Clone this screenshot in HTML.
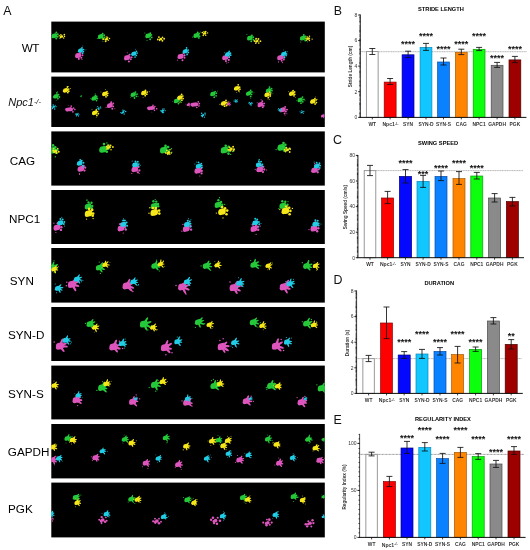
<!DOCTYPE html>
<html><head><meta charset="utf-8"><title>Figure</title>
<style>html,body{margin:0;padding:0;background:#fff}body{width:530px;height:550px;position:relative;overflow:hidden}</style>
</head><body>
<svg width="530" height="550" viewBox="0 0 530 550" style="position:absolute;left:0;top:0">
<defs>
<clipPath id="cs0"><rect x="51.3" y="21.6" width="273.5" height="50.8"/></clipPath>
<clipPath id="cs1"><rect x="51.3" y="76.6" width="273.5" height="50.4"/></clipPath>
<clipPath id="cs2"><rect x="51.3" y="131.4" width="273.5" height="54.2"/></clipPath>
<clipPath id="cs3"><rect x="51.3" y="190" width="273.5" height="54.0"/></clipPath>
<clipPath id="cs4"><rect x="51.3" y="248" width="273.5" height="54.6"/></clipPath>
<clipPath id="cs5"><rect x="51.3" y="307" width="273.5" height="54.0"/></clipPath>
<clipPath id="cs6"><rect x="51.3" y="365.6" width="273.5" height="53.8"/></clipPath>
<clipPath id="cs7"><rect x="51.3" y="424" width="273.5" height="54.4"/></clipPath>
<clipPath id="cs8"><rect x="51.3" y="482.6" width="273.5" height="54.8"/></clipPath>
</defs>
<rect width="530" height="550" fill="#fff"/>
<rect x="51.3" y="21.6" width="273.5" height="50.8" fill="#000"/>
<rect x="51.3" y="76.6" width="273.5" height="50.4" fill="#000"/>
<rect x="51.3" y="131.4" width="273.5" height="54.2" fill="#000"/>
<rect x="51.3" y="190" width="273.5" height="54.0" fill="#000"/>
<rect x="51.3" y="248" width="273.5" height="54.6" fill="#000"/>
<rect x="51.3" y="307" width="273.5" height="54.0" fill="#000"/>
<rect x="51.3" y="365.6" width="273.5" height="53.8" fill="#000"/>
<rect x="51.3" y="424" width="273.5" height="54.4" fill="#000"/>
<rect x="51.3" y="482.6" width="273.5" height="54.8" fill="#000"/>
<g clip-path="url(#cs0)">
<g fill="#25c93a"><ellipse cx="54.5" cy="35.8" rx="2.70" ry="2.20"/><circle cx="53.2" cy="36.8" r="1.50"/><circle cx="55.5" cy="34.9" r="1.60"/><circle cx="56.3" cy="32.5" r="0.95"/><circle cx="57.8" cy="34.3" r="0.95"/><circle cx="57.6" cy="36.8" r="0.95"/><circle cx="56.2" cy="38.5" r="0.95"/><circle cx="51.2" cy="37.6" r="0.50"/><circle cx="59.4" cy="38.4" r="0.50"/></g>
<g fill="#de55bd"><ellipse cx="78.2" cy="55.5" rx="2.92" ry="2.38"/><circle cx="76.8" cy="56.6" r="1.62"/><circle cx="79.2" cy="54.5" r="1.73"/><circle cx="80.6" cy="52.8" r="1.03"/><circle cx="82.4" cy="55.3" r="1.03"/><circle cx="81.3" cy="57.7" r="1.03"/><circle cx="78.8" cy="58.9" r="1.03"/><circle cx="82.2" cy="51.8" r="0.54"/><circle cx="82.0" cy="59.5" r="0.54"/></g>
<g fill="#25c93a"><ellipse cx="100.7" cy="36.4" rx="2.70" ry="2.20"/><circle cx="99.4" cy="37.4" r="1.50"/><circle cx="101.7" cy="35.5" r="1.60"/><circle cx="102.7" cy="33.7" r="0.95"/><circle cx="104.2" cy="35.3" r="0.95"/><circle cx="104.2" cy="37.5" r="0.95"/><circle cx="102.7" cy="38.9" r="0.95"/><circle cx="102.9" cy="41.3" r="0.50"/><circle cx="97.3" cy="38.5" r="0.50"/></g>
<g fill="#de55bd"><ellipse cx="127.1" cy="57.7" rx="2.92" ry="2.38"/><circle cx="125.7" cy="58.8" r="1.62"/><circle cx="128.2" cy="56.7" r="1.73"/><circle cx="129.5" cy="54.8" r="1.03"/><circle cx="131.2" cy="57.2" r="1.03"/><circle cx="130.8" cy="59.3" r="1.03"/><circle cx="128.9" cy="61.5" r="1.03"/><circle cx="127.3" cy="52.8" r="0.54"/><circle cx="132.8" cy="57.2" r="0.54"/></g>
<g fill="#25c93a"><ellipse cx="148.2" cy="35.8" rx="2.70" ry="2.20"/><circle cx="146.9" cy="36.8" r="1.50"/><circle cx="149.2" cy="34.9" r="1.60"/><circle cx="150.3" cy="33.2" r="0.95"/><circle cx="151.3" cy="34.9" r="0.95"/><circle cx="151.7" cy="37.4" r="0.95"/><circle cx="150.1" cy="39.2" r="0.95"/><circle cx="147.0" cy="40.5" r="0.50"/><circle cx="144.9" cy="33.0" r="0.50"/></g>
<g fill="#de55bd"><ellipse cx="180.6" cy="56.4" rx="2.92" ry="2.38"/><circle cx="179.2" cy="57.5" r="1.62"/><circle cx="181.7" cy="55.5" r="1.73"/><circle cx="183.5" cy="53.3" r="1.03"/><circle cx="184.5" cy="55.4" r="1.03"/><circle cx="184.5" cy="57.7" r="1.03"/><circle cx="182.5" cy="60.3" r="1.03"/><circle cx="183.7" cy="51.9" r="0.54"/><circle cx="177.4" cy="60.1" r="0.54"/></g>
<g fill="#25c93a"><ellipse cx="196.3" cy="35.4" rx="2.70" ry="2.20"/><circle cx="195.0" cy="36.4" r="1.50"/><circle cx="197.3" cy="34.5" r="1.60"/><circle cx="197.7" cy="32.4" r="0.95"/><circle cx="199.1" cy="33.7" r="0.95"/><circle cx="199.5" cy="36.3" r="0.95"/><circle cx="198.8" cy="37.9" r="0.95"/><circle cx="200.2" cy="32.1" r="0.50"/><circle cx="192.4" cy="36.9" r="0.50"/></g>
<g fill="#de55bd"><ellipse cx="225.3" cy="57.6" rx="2.92" ry="2.38"/><circle cx="223.9" cy="58.6" r="1.62"/><circle cx="226.4" cy="56.6" r="1.73"/><circle cx="228.7" cy="55.1" r="1.03"/><circle cx="229.1" cy="57.2" r="1.03"/><circle cx="228.8" cy="59.9" r="1.03"/><circle cx="225.9" cy="61.1" r="1.03"/><circle cx="228.3" cy="62.3" r="0.54"/><circle cx="226.7" cy="63.0" r="0.54"/></g>
<g fill="#25c93a"><ellipse cx="249.9" cy="37.9" rx="2.70" ry="2.20"/><circle cx="248.6" cy="38.9" r="1.50"/><circle cx="250.9" cy="37.0" r="1.60"/><circle cx="251.9" cy="35.4" r="0.95"/><circle cx="253.3" cy="37.2" r="0.95"/><circle cx="253.4" cy="39.8" r="0.95"/><circle cx="251.2" cy="41.2" r="0.95"/><circle cx="246.9" cy="34.6" r="0.50"/><circle cx="255.7" cy="39.8" r="0.50"/></g>
<g fill="#de55bd"><ellipse cx="280.3" cy="57.6" rx="2.92" ry="2.38"/><circle cx="278.9" cy="58.7" r="1.62"/><circle cx="281.3" cy="56.6" r="1.73"/><circle cx="283.5" cy="55.0" r="1.03"/><circle cx="284.0" cy="57.1" r="1.03"/><circle cx="283.8" cy="59.4" r="1.03"/><circle cx="281.7" cy="60.8" r="1.03"/><circle cx="282.4" cy="62.6" r="0.54"/><circle cx="278.5" cy="61.9" r="0.54"/></g>
<g fill="#25c93a"><ellipse cx="302.7" cy="38.1" rx="2.70" ry="2.20"/><circle cx="301.4" cy="39.1" r="1.50"/><circle cx="303.7" cy="37.2" r="1.60"/><circle cx="303.8" cy="35.0" r="0.95"/><circle cx="305.5" cy="36.5" r="0.95"/><circle cx="306.3" cy="39.1" r="0.95"/><circle cx="305.2" cy="40.5" r="0.95"/><circle cx="300.8" cy="41.9" r="0.50"/><circle cx="307.3" cy="41.7" r="0.50"/></g>
<g fill="#f6e71a"><circle cx="61.9" cy="36.4" r="1.25"/><circle cx="60.7" cy="37.0" r="1.00"/><circle cx="64.6" cy="36.4" r="0.68"/><circle cx="63.7" cy="37.9" r="0.73"/><circle cx="60.4" cy="37.8" r="0.66"/><circle cx="59.2" cy="35.8" r="0.69"/><circle cx="60.9" cy="34.9" r="0.81"/><circle cx="64.3" cy="34.7" r="0.86"/></g>
<g fill="#22cde6"><ellipse cx="80.5" cy="50.4" rx="2.43" ry="1.98"/><circle cx="79.3" cy="51.3" r="1.35"/><circle cx="81.4" cy="49.6" r="1.44"/><circle cx="82.0" cy="47.8" r="0.85"/><circle cx="83.6" cy="49.5" r="0.85"/><circle cx="83.4" cy="51.6" r="0.85"/><circle cx="82.6" cy="53.2" r="0.85"/><circle cx="85.9" cy="49.9" r="0.45"/><circle cx="82.8" cy="46.0" r="0.45"/></g>
<g fill="#f6e71a"><circle cx="106.8" cy="39.0" r="1.25"/><circle cx="105.6" cy="39.6" r="1.00"/><circle cx="109.5" cy="38.6" r="0.76"/><circle cx="108.3" cy="40.2" r="0.73"/><circle cx="105.7" cy="41.2" r="0.94"/><circle cx="103.5" cy="39.1" r="0.95"/><circle cx="106.2" cy="37.0" r="0.72"/><circle cx="107.7" cy="37.2" r="0.71"/></g>
<g fill="#22cde6"><ellipse cx="133.8" cy="53.7" rx="2.43" ry="1.98"/><circle cx="132.6" cy="54.6" r="1.35"/><circle cx="134.7" cy="52.9" r="1.44"/><circle cx="136.4" cy="51.3" r="0.85"/><circle cx="137.1" cy="53.1" r="0.85"/><circle cx="136.3" cy="55.3" r="0.85"/><circle cx="135.1" cy="57.0" r="0.85"/><circle cx="135.4" cy="49.3" r="0.45"/><circle cx="130.4" cy="54.4" r="0.45"/></g>
<g fill="#f6e71a"><circle cx="161.0" cy="39.0" r="1.25"/><circle cx="159.8" cy="39.6" r="1.00"/><circle cx="164.1" cy="38.7" r="0.94"/><circle cx="162.4" cy="40.8" r="0.93"/><circle cx="159.6" cy="40.5" r="0.69"/><circle cx="157.8" cy="39.5" r="0.89"/><circle cx="158.9" cy="37.1" r="0.94"/><circle cx="162.5" cy="37.4" r="0.81"/></g>
<g fill="#22cde6"><ellipse cx="185.3" cy="51.3" rx="2.43" ry="1.98"/><circle cx="184.1" cy="52.2" r="1.35"/><circle cx="186.2" cy="50.5" r="1.44"/><circle cx="186.6" cy="47.9" r="0.85"/><circle cx="188.3" cy="50.0" r="0.85"/><circle cx="188.3" cy="52.4" r="0.85"/><circle cx="187.1" cy="54.2" r="0.85"/><circle cx="187.0" cy="55.3" r="0.45"/><circle cx="184.9" cy="55.2" r="0.45"/></g>
<g fill="#f6e71a"><circle cx="205.0" cy="33.2" r="1.25"/><circle cx="203.8" cy="33.8" r="1.00"/><circle cx="207.6" cy="32.9" r="0.69"/><circle cx="205.7" cy="35.2" r="0.79"/><circle cx="203.2" cy="35.4" r="0.78"/><circle cx="202.3" cy="32.6" r="0.81"/><circle cx="204.0" cy="31.7" r="0.78"/><circle cx="205.7" cy="31.6" r="0.89"/></g>
<g fill="#22cde6"><ellipse cx="227.6" cy="54.3" rx="2.43" ry="1.98"/><circle cx="226.4" cy="55.2" r="1.35"/><circle cx="228.5" cy="53.5" r="1.44"/><circle cx="229.2" cy="51.4" r="0.85"/><circle cx="230.5" cy="53.2" r="0.85"/><circle cx="230.7" cy="55.2" r="0.85"/><circle cx="229.2" cy="56.8" r="0.85"/><circle cx="224.4" cy="52.8" r="0.45"/><circle cx="227.5" cy="58.9" r="0.45"/></g>
<g fill="#f6e71a"><circle cx="257.3" cy="41.1" r="1.25"/><circle cx="256.1" cy="41.7" r="1.00"/><circle cx="260.4" cy="41.2" r="0.92"/><circle cx="258.8" cy="43.1" r="0.80"/><circle cx="255.8" cy="43.2" r="0.79"/><circle cx="254.6" cy="41.0" r="0.93"/><circle cx="256.1" cy="38.7" r="0.93"/><circle cx="258.4" cy="39.0" r="0.93"/></g>
<g fill="#22cde6"><ellipse cx="283.6" cy="54.1" rx="2.43" ry="1.98"/><circle cx="282.4" cy="55.0" r="1.35"/><circle cx="284.5" cy="53.3" r="1.44"/><circle cx="285.6" cy="51.9" r="0.85"/><circle cx="286.5" cy="53.9" r="0.85"/><circle cx="286.1" cy="55.6" r="0.85"/><circle cx="284.5" cy="57.4" r="0.85"/><circle cx="287.6" cy="51.8" r="0.45"/><circle cx="283.3" cy="49.9" r="0.45"/></g>
<g fill="#f6e71a"><circle cx="308.8" cy="38.5" r="1.25"/><circle cx="307.6" cy="39.1" r="1.00"/><circle cx="312.1" cy="39.1" r="0.72"/><circle cx="309.4" cy="40.5" r="0.80"/><circle cx="306.5" cy="40.2" r="0.70"/><circle cx="306.0" cy="38.6" r="0.75"/><circle cx="307.2" cy="37.0" r="0.87"/><circle cx="309.5" cy="36.3" r="0.78"/></g>
</g>
<g clip-path="url(#cs1)">
<g fill="#25c93a"><ellipse cx="55.9" cy="96.3" rx="2.56" ry="2.09"/><circle cx="54.6" cy="97.2" r="1.42"/><circle cx="56.8" cy="95.4" r="1.52"/><circle cx="56.9" cy="92.9" r="0.90"/><circle cx="58.5" cy="94.6" r="0.90"/><circle cx="59.4" cy="97.0" r="0.90"/><circle cx="57.9" cy="98.7" r="0.90"/><circle cx="56.2" cy="100.3" r="0.47"/><circle cx="57.4" cy="91.7" r="0.47"/></g>
<g fill="#de55bd"><ellipse cx="69.1" cy="109.4" rx="4.00" ry="1.92"/><circle cx="67.2" cy="110.3" r="1.31"/><circle cx="70.6" cy="108.6" r="1.40"/><circle cx="71.2" cy="106.2" r="0.83"/><circle cx="73.7" cy="108.2" r="0.83"/><circle cx="74.9" cy="109.6" r="0.83"/><circle cx="72.9" cy="111.9" r="0.83"/><circle cx="73.1" cy="111.4" r="0.44"/><circle cx="68.2" cy="105.4" r="0.44"/></g>
<g fill="#25c93a"><ellipse cx="81.0" cy="96.1" rx="0.72" ry="0.59"/><circle cx="80.6" cy="96.4" r="0.40"/><circle cx="81.3" cy="95.9" r="0.43"/><circle cx="81.4" cy="95.3" r="0.25"/><circle cx="81.8" cy="95.7" r="0.25"/><circle cx="81.8" cy="96.3" r="0.25"/><circle cx="81.6" cy="96.9" r="0.25"/><circle cx="80.5" cy="97.2" r="0.13"/><circle cx="82.3" cy="95.5" r="0.13"/></g>
<g fill="#25c93a"><ellipse cx="94.2" cy="98.3" rx="2.56" ry="2.09"/><circle cx="92.9" cy="99.3" r="1.42"/><circle cx="95.1" cy="97.5" r="1.52"/><circle cx="95.4" cy="95.4" r="0.90"/><circle cx="96.7" cy="96.5" r="0.90"/><circle cx="97.3" cy="98.5" r="0.90"/><circle cx="96.5" cy="100.6" r="0.90"/><circle cx="95.2" cy="93.8" r="0.47"/><circle cx="90.6" cy="98.2" r="0.47"/></g>
<g fill="#de55bd"><ellipse cx="109.9" cy="105.5" rx="2.77" ry="2.26"/><circle cx="108.5" cy="106.5" r="1.54"/><circle cx="110.9" cy="104.5" r="1.64"/><circle cx="111.2" cy="102.2" r="0.97"/><circle cx="113.2" cy="103.5" r="0.97"/><circle cx="113.2" cy="106.4" r="0.97"/><circle cx="112.3" cy="108.7" r="0.97"/><circle cx="114.9" cy="108.7" r="0.51"/><circle cx="106.1" cy="107.5" r="0.51"/></g>
<g fill="#25c93a"><ellipse cx="133.3" cy="94.7" rx="2.56" ry="2.09"/><circle cx="132.0" cy="95.6" r="1.42"/><circle cx="134.2" cy="93.8" r="1.52"/><circle cx="135.5" cy="92.1" r="0.90"/><circle cx="137.0" cy="94.2" r="0.90"/><circle cx="136.5" cy="96.3" r="0.90"/><circle cx="134.5" cy="98.0" r="0.90"/><circle cx="130.3" cy="97.3" r="0.47"/><circle cx="138.1" cy="96.2" r="0.47"/></g>
<g fill="#de55bd"><ellipse cx="151.0" cy="108.1" rx="4.00" ry="1.92"/><circle cx="149.1" cy="109.0" r="1.31"/><circle cx="152.5" cy="107.4" r="1.40"/><circle cx="153.0" cy="105.4" r="0.83"/><circle cx="154.9" cy="106.5" r="0.83"/><circle cx="156.7" cy="108.8" r="0.83"/><circle cx="154.5" cy="110.3" r="0.83"/><circle cx="151.9" cy="112.1" r="0.44"/><circle cx="147.9" cy="109.0" r="0.44"/></g>
<g fill="#25c93a"><ellipse cx="176.5" cy="100.9" rx="2.56" ry="2.09"/><circle cx="175.3" cy="101.9" r="1.42"/><circle cx="177.5" cy="100.1" r="1.52"/><circle cx="178.3" cy="97.6" r="0.90"/><circle cx="179.9" cy="100.1" r="0.90"/><circle cx="180.2" cy="101.8" r="0.90"/><circle cx="178.5" cy="103.6" r="0.90"/><circle cx="181.8" cy="100.9" r="0.47"/><circle cx="172.7" cy="101.6" r="0.47"/></g>
<g fill="#de55bd"><ellipse cx="188.3" cy="104.7" rx="1.52" ry="1.24"/><circle cx="187.5" cy="105.2" r="0.85"/><circle cx="188.8" cy="104.2" r="0.90"/><circle cx="189.0" cy="103.0" r="0.54"/><circle cx="189.8" cy="103.7" r="0.54"/><circle cx="190.1" cy="105.0" r="0.54"/><circle cx="189.7" cy="106.0" r="0.54"/><circle cx="189.0" cy="107.4" r="0.28"/><circle cx="185.8" cy="104.1" r="0.28"/></g>
<g fill="#de55bd"><ellipse cx="194.5" cy="104.5" rx="4.00" ry="1.92"/><circle cx="192.6" cy="105.4" r="1.31"/><circle cx="196.0" cy="103.8" r="1.40"/><circle cx="198.2" cy="101.9" r="0.83"/><circle cx="199.4" cy="103.7" r="0.83"/><circle cx="198.8" cy="106.0" r="0.83"/><circle cx="196.8" cy="107.5" r="0.83"/><circle cx="199.6" cy="105.8" r="0.44"/><circle cx="198.6" cy="101.8" r="0.44"/></g>
<g fill="#25c93a"><ellipse cx="212.9" cy="93.9" rx="2.56" ry="2.09"/><circle cx="211.7" cy="94.9" r="1.42"/><circle cx="213.9" cy="93.1" r="1.52"/><circle cx="215.1" cy="91.6" r="0.90"/><circle cx="216.3" cy="93.2" r="0.90"/><circle cx="216.1" cy="95.8" r="0.90"/><circle cx="214.2" cy="97.2" r="0.90"/><circle cx="217.5" cy="91.0" r="0.47"/><circle cx="212.2" cy="89.9" r="0.47"/></g>
<g fill="#de55bd"><ellipse cx="228.4" cy="104.1" rx="1.52" ry="1.24"/><circle cx="227.6" cy="104.7" r="0.85"/><circle cx="228.9" cy="103.6" r="0.90"/><circle cx="228.8" cy="102.2" r="0.54"/><circle cx="230.1" cy="102.8" r="0.54"/><circle cx="230.4" cy="104.3" r="0.54"/><circle cx="229.8" cy="105.6" r="0.54"/><circle cx="226.3" cy="104.2" r="0.28"/><circle cx="229.7" cy="101.2" r="0.28"/></g>
<g fill="#25c93a"><ellipse cx="248.6" cy="93.5" rx="2.56" ry="2.09"/><circle cx="247.4" cy="94.4" r="1.42"/><circle cx="249.6" cy="92.6" r="1.52"/><circle cx="250.6" cy="90.5" r="0.90"/><circle cx="251.9" cy="92.0" r="0.90"/><circle cx="251.6" cy="94.3" r="0.90"/><circle cx="250.7" cy="96.4" r="0.90"/><circle cx="250.8" cy="98.2" r="0.47"/><circle cx="254.0" cy="92.8" r="0.47"/></g>
<g fill="#de55bd"><ellipse cx="260.5" cy="104.6" rx="2.77" ry="2.26"/><circle cx="259.1" cy="105.7" r="1.54"/><circle cx="261.5" cy="103.7" r="1.64"/><circle cx="262.3" cy="101.3" r="0.97"/><circle cx="264.1" cy="103.4" r="0.97"/><circle cx="263.7" cy="105.7" r="0.97"/><circle cx="262.8" cy="107.3" r="0.97"/><circle cx="261.1" cy="99.8" r="0.51"/><circle cx="257.2" cy="102.7" r="0.51"/></g>
<g fill="#25c93a"><ellipse cx="268.5" cy="90.5" rx="2.56" ry="2.09"/><circle cx="267.2" cy="91.4" r="1.42"/><circle cx="269.4" cy="89.6" r="1.52"/><circle cx="269.5" cy="87.1" r="0.90"/><circle cx="271.6" cy="88.7" r="0.90"/><circle cx="271.9" cy="90.7" r="0.90"/><circle cx="270.9" cy="92.8" r="0.90"/><circle cx="272.9" cy="93.7" r="0.47"/><circle cx="270.8" cy="95.2" r="0.47"/></g>
<g fill="#de55bd"><ellipse cx="282.9" cy="109.7" rx="2.77" ry="2.26"/><circle cx="281.6" cy="110.7" r="1.54"/><circle cx="283.9" cy="108.8" r="1.64"/><circle cx="285.2" cy="106.9" r="0.97"/><circle cx="287.0" cy="109.6" r="0.97"/><circle cx="285.9" cy="111.5" r="0.97"/><circle cx="284.6" cy="113.4" r="0.97"/><circle cx="285.0" cy="114.9" r="0.51"/><circle cx="286.9" cy="113.8" r="0.51"/></g>
<g fill="#25c93a"><ellipse cx="300.2" cy="99.9" rx="2.56" ry="2.09"/><circle cx="298.9" cy="100.9" r="1.42"/><circle cx="301.1" cy="99.1" r="1.52"/><circle cx="302.5" cy="97.1" r="0.90"/><circle cx="303.9" cy="99.5" r="0.90"/><circle cx="302.8" cy="101.8" r="0.90"/><circle cx="301.0" cy="103.2" r="0.90"/><circle cx="305.0" cy="100.7" r="0.47"/><circle cx="296.3" cy="100.3" r="0.47"/></g>
<g fill="#de55bd"><ellipse cx="322.6" cy="116.0" rx="1.52" ry="1.24"/><circle cx="321.8" cy="116.6" r="0.85"/><circle cx="323.1" cy="115.5" r="0.90"/><circle cx="323.3" cy="114.2" r="0.54"/><circle cx="324.5" cy="115.0" r="0.54"/><circle cx="324.7" cy="116.3" r="0.54"/><circle cx="323.6" cy="117.6" r="0.54"/><circle cx="325.6" cy="114.7" r="0.28"/><circle cx="325.2" cy="114.5" r="0.28"/></g>
<g fill="#f6e71a"><ellipse cx="65.6" cy="90.3" rx="2.56" ry="2.09"/><circle cx="64.4" cy="91.3" r="1.42"/><circle cx="66.6" cy="89.5" r="1.52"/><circle cx="67.4" cy="87.0" r="0.90"/><circle cx="68.7" cy="89.1" r="0.90"/><circle cx="68.8" cy="91.2" r="0.90"/><circle cx="67.8" cy="92.6" r="0.90"/><circle cx="68.6" cy="86.5" r="0.47"/><circle cx="70.5" cy="88.5" r="0.47"/></g>
<g fill="#22cde6"><circle cx="54.0" cy="106.7" r="1.07"/><circle cx="53.0" cy="107.2" r="0.85"/><circle cx="56.0" cy="106.7" r="0.65"/><circle cx="54.7" cy="108.9" r="0.76"/><circle cx="52.4" cy="108.5" r="0.80"/><circle cx="51.4" cy="106.6" r="0.57"/><circle cx="53.2" cy="105.0" r="0.75"/><circle cx="55.2" cy="105.3" r="0.57"/></g>
<g fill="#22cde6"><circle cx="77.2" cy="114.6" r="0.86"/><circle cx="76.4" cy="115.0" r="0.68"/><circle cx="79.0" cy="114.3" r="0.52"/><circle cx="78.5" cy="115.9" r="0.64"/><circle cx="76.4" cy="116.1" r="0.51"/><circle cx="75.4" cy="114.5" r="0.48"/><circle cx="76.1" cy="113.6" r="0.63"/><circle cx="78.0" cy="113.5" r="0.63"/></g>
<g fill="#f6e71a"><ellipse cx="104.8" cy="93.8" rx="2.56" ry="2.09"/><circle cx="103.5" cy="94.8" r="1.42"/><circle cx="105.7" cy="93.0" r="1.52"/><circle cx="107.0" cy="91.6" r="0.90"/><circle cx="107.8" cy="93.3" r="0.90"/><circle cx="107.4" cy="95.4" r="0.90"/><circle cx="106.0" cy="96.8" r="0.90"/><circle cx="100.9" cy="91.9" r="0.47"/><circle cx="105.5" cy="89.4" r="0.47"/></g>
<g fill="#f6e71a"><ellipse cx="94.6" cy="112.8" rx="2.56" ry="2.09"/><circle cx="93.4" cy="113.8" r="1.42"/><circle cx="95.6" cy="112.0" r="1.52"/><circle cx="96.3" cy="110.0" r="0.90"/><circle cx="97.5" cy="111.6" r="0.90"/><circle cx="98.3" cy="113.7" r="0.90"/><circle cx="96.9" cy="115.4" r="0.90"/><circle cx="92.0" cy="109.2" r="0.47"/><circle cx="96.3" cy="117.1" r="0.47"/></g>
<g fill="#22cde6"><circle cx="98.9" cy="108.0" r="0.86"/><circle cx="98.1" cy="108.4" r="0.68"/><circle cx="100.7" cy="107.9" r="0.64"/><circle cx="99.6" cy="109.7" r="0.45"/><circle cx="98.4" cy="109.6" r="0.63"/><circle cx="96.9" cy="108.0" r="0.44"/><circle cx="97.7" cy="106.5" r="0.61"/><circle cx="100.5" cy="106.7" r="0.50"/></g>
<g fill="#22cde6"><circle cx="123.4" cy="112.0" r="1.07"/><circle cx="122.4" cy="112.5" r="0.85"/><circle cx="125.7" cy="111.6" r="0.73"/><circle cx="124.1" cy="114.0" r="0.72"/><circle cx="121.9" cy="113.4" r="0.70"/><circle cx="120.8" cy="112.6" r="0.62"/><circle cx="122.8" cy="110.1" r="0.63"/><circle cx="124.0" cy="110.4" r="0.72"/></g>
<g fill="#f6e71a"><ellipse cx="143.8" cy="92.9" rx="2.56" ry="2.09"/><circle cx="142.6" cy="93.9" r="1.42"/><circle cx="144.8" cy="92.1" r="1.52"/><circle cx="145.5" cy="90.3" r="0.90"/><circle cx="147.2" cy="92.1" r="0.90"/><circle cx="146.8" cy="94.2" r="0.90"/><circle cx="145.2" cy="95.7" r="0.90"/><circle cx="143.1" cy="97.4" r="0.47"/><circle cx="149.2" cy="91.8" r="0.47"/></g>
<g fill="#22cde6"><circle cx="163.0" cy="110.7" r="1.07"/><circle cx="162.0" cy="111.2" r="0.85"/><circle cx="165.1" cy="110.7" r="0.62"/><circle cx="163.6" cy="112.7" r="0.63"/><circle cx="162.4" cy="112.5" r="0.73"/><circle cx="160.9" cy="110.8" r="0.73"/><circle cx="162.5" cy="109.1" r="0.56"/><circle cx="164.0" cy="109.1" r="0.73"/></g>
<g fill="#f6e71a"><ellipse cx="179.9" cy="97.6" rx="2.56" ry="2.09"/><circle cx="178.7" cy="98.6" r="1.42"/><circle cx="180.9" cy="96.8" r="1.52"/><circle cx="181.6" cy="94.4" r="0.90"/><circle cx="182.8" cy="96.1" r="0.90"/><circle cx="183.1" cy="98.6" r="0.90"/><circle cx="181.9" cy="100.2" r="0.90"/><circle cx="181.6" cy="102.3" r="0.47"/><circle cx="179.3" cy="102.4" r="0.47"/></g>
<g fill="#22cde6"><circle cx="203.2" cy="115.1" r="1.07"/><circle cx="202.2" cy="115.6" r="0.85"/><circle cx="205.2" cy="114.8" r="0.66"/><circle cx="204.4" cy="117.2" r="0.59"/><circle cx="202.3" cy="116.6" r="0.81"/><circle cx="201.4" cy="115.4" r="0.57"/><circle cx="201.7" cy="113.2" r="0.78"/><circle cx="205.0" cy="113.3" r="0.79"/></g>
<g fill="#f6e71a"><ellipse cx="236.7" cy="88.3" rx="2.56" ry="2.09"/><circle cx="235.5" cy="89.2" r="1.42"/><circle cx="237.7" cy="87.4" r="1.52"/><circle cx="238.2" cy="84.8" r="0.90"/><circle cx="239.6" cy="87.2" r="0.90"/><circle cx="239.9" cy="89.2" r="0.90"/><circle cx="238.8" cy="90.8" r="0.90"/><circle cx="239.5" cy="91.9" r="0.47"/><circle cx="236.7" cy="92.6" r="0.47"/></g>
<g fill="#f6e71a"><ellipse cx="223.6" cy="103.3" rx="2.56" ry="2.09"/><circle cx="222.3" cy="104.3" r="1.42"/><circle cx="224.5" cy="102.5" r="1.52"/><circle cx="226.0" cy="100.5" r="0.90"/><circle cx="226.8" cy="102.7" r="0.90"/><circle cx="226.5" cy="105.5" r="0.90"/><circle cx="224.6" cy="106.2" r="0.90"/><circle cx="219.8" cy="104.3" r="0.47"/><circle cx="228.1" cy="101.4" r="0.47"/></g>
<g fill="#22cde6"><circle cx="236.2" cy="100.9" r="0.86"/><circle cx="235.4" cy="101.3" r="0.68"/><circle cx="237.6" cy="101.2" r="0.53"/><circle cx="236.9" cy="102.5" r="0.45"/><circle cx="235.8" cy="102.1" r="0.63"/><circle cx="234.1" cy="101.1" r="0.63"/><circle cx="235.2" cy="99.8" r="0.64"/><circle cx="237.2" cy="99.8" r="0.59"/></g>
<g fill="#22cde6"><circle cx="250.7" cy="103.5" r="0.86"/><circle cx="249.9" cy="103.9" r="0.68"/><circle cx="252.1" cy="103.3" r="0.60"/><circle cx="251.2" cy="105.0" r="0.64"/><circle cx="250.3" cy="104.8" r="0.54"/><circle cx="248.5" cy="103.0" r="0.52"/><circle cx="249.6" cy="102.4" r="0.55"/><circle cx="251.8" cy="102.6" r="0.61"/></g>
<g fill="#f6e71a"><ellipse cx="267.1" cy="94.7" rx="2.56" ry="2.09"/><circle cx="265.9" cy="95.7" r="1.42"/><circle cx="268.1" cy="93.9" r="1.52"/><circle cx="269.7" cy="92.1" r="0.90"/><circle cx="270.4" cy="94.1" r="0.90"/><circle cx="270.2" cy="96.0" r="0.90"/><circle cx="268.3" cy="97.6" r="0.90"/><circle cx="269.5" cy="99.4" r="0.47"/><circle cx="268.0" cy="99.0" r="0.47"/></g>
<g fill="#22cde6"><circle cx="279.8" cy="109.9" r="0.86"/><circle cx="279.0" cy="110.3" r="0.68"/><circle cx="281.5" cy="109.9" r="0.65"/><circle cx="280.5" cy="111.7" r="0.50"/><circle cx="279.4" cy="111.1" r="0.55"/><circle cx="278.0" cy="109.7" r="0.49"/><circle cx="278.7" cy="108.6" r="0.58"/><circle cx="281.2" cy="108.5" r="0.58"/></g>
<g fill="#f6e71a"><ellipse cx="291.7" cy="93.6" rx="2.56" ry="2.09"/><circle cx="290.4" cy="94.6" r="1.42"/><circle cx="292.6" cy="92.8" r="1.52"/><circle cx="293.1" cy="90.7" r="0.90"/><circle cx="294.6" cy="92.0" r="0.90"/><circle cx="294.8" cy="94.3" r="0.90"/><circle cx="294.0" cy="95.8" r="0.90"/><circle cx="295.3" cy="97.6" r="0.47"/><circle cx="288.4" cy="91.4" r="0.47"/></g>
<g fill="#f6e71a"><ellipse cx="312.8" cy="101.4" rx="2.56" ry="2.09"/><circle cx="311.6" cy="102.4" r="1.42"/><circle cx="313.8" cy="100.6" r="1.52"/><circle cx="314.9" cy="98.7" r="0.90"/><circle cx="316.1" cy="99.9" r="0.90"/><circle cx="316.4" cy="102.6" r="0.90"/><circle cx="315.1" cy="104.0" r="0.90"/><circle cx="315.7" cy="96.9" r="0.47"/><circle cx="317.2" cy="99.2" r="0.47"/></g>
<g fill="#22cde6"><circle cx="302.2" cy="112.0" r="0.86"/><circle cx="301.4" cy="112.4" r="0.68"/><circle cx="303.8" cy="111.7" r="0.64"/><circle cx="303.2" cy="113.6" r="0.52"/><circle cx="301.0" cy="113.1" r="0.50"/><circle cx="300.0" cy="111.7" r="0.47"/><circle cx="301.3" cy="110.6" r="0.49"/><circle cx="302.9" cy="110.9" r="0.49"/></g>
</g>
<g clip-path="url(#cs2)">
<g fill="#25c93a"><ellipse cx="52.2" cy="150.5" rx="3.71" ry="3.03"/><circle cx="50.4" cy="151.8" r="2.06"/><circle cx="53.6" cy="149.2" r="2.20"/><circle cx="53.1" cy="145.4" r="1.31"/><circle cx="55.2" cy="147.2" r="1.31"/><circle cx="57.3" cy="149.8" r="1.31"/><circle cx="56.4" cy="152.7" r="1.31"/><circle cx="55.3" cy="156.8" r="0.69"/><circle cx="47.3" cy="148.2" r="0.69"/></g>
<g fill="#de55bd"><ellipse cx="80.9" cy="168.8" rx="3.21" ry="2.61"/><circle cx="79.3" cy="169.9" r="1.78"/><circle cx="82.1" cy="167.7" r="1.90"/><circle cx="81.1" cy="164.4" r="1.13"/><circle cx="83.6" cy="166.0" r="1.13"/><circle cx="85.2" cy="167.7" r="1.13"/><circle cx="84.5" cy="170.6" r="1.13"/><circle cx="79.5" cy="174.2" r="0.59"/><circle cx="79.5" cy="173.8" r="0.59"/></g>
<g fill="#25c93a"><ellipse cx="103.1" cy="149.4" rx="3.71" ry="3.03"/><circle cx="101.3" cy="150.8" r="2.06"/><circle cx="104.5" cy="148.2" r="2.20"/><circle cx="104.0" cy="144.1" r="1.31"/><circle cx="107.1" cy="146.7" r="1.31"/><circle cx="108.2" cy="148.8" r="1.31"/><circle cx="106.8" cy="151.7" r="1.31"/><circle cx="109.5" cy="145.1" r="0.69"/><circle cx="106.9" cy="143.0" r="0.69"/></g>
<g fill="#de55bd"><ellipse cx="134.9" cy="169.2" rx="3.21" ry="2.61"/><circle cx="133.3" cy="170.4" r="1.78"/><circle cx="136.0" cy="168.1" r="1.90"/><circle cx="136.6" cy="165.6" r="1.13"/><circle cx="138.5" cy="166.9" r="1.13"/><circle cx="139.4" cy="170.4" r="1.13"/><circle cx="137.9" cy="172.3" r="1.13"/><circle cx="131.8" cy="173.3" r="0.59"/><circle cx="139.2" cy="173.5" r="0.59"/></g>
<g fill="#25c93a"><ellipse cx="163.8" cy="150.1" rx="3.71" ry="3.03"/><circle cx="162.1" cy="151.5" r="2.06"/><circle cx="165.2" cy="148.9" r="2.20"/><circle cx="165.5" cy="145.9" r="1.31"/><circle cx="168.1" cy="147.0" r="1.31"/><circle cx="168.4" cy="150.8" r="1.31"/><circle cx="168.3" cy="153.3" r="1.31"/><circle cx="171.5" cy="148.8" r="0.69"/><circle cx="171.8" cy="152.2" r="0.69"/></g>
<g fill="#de55bd"><ellipse cx="197.8" cy="170.7" rx="3.21" ry="2.61"/><circle cx="196.3" cy="171.9" r="1.78"/><circle cx="199.0" cy="169.7" r="1.90"/><circle cx="199.2" cy="166.6" r="1.13"/><circle cx="201.0" cy="168.5" r="1.13"/><circle cx="201.8" cy="170.9" r="1.13"/><circle cx="201.6" cy="173.4" r="1.13"/><circle cx="201.3" cy="165.6" r="0.59"/><circle cx="199.8" cy="176.0" r="0.59"/></g>
<g fill="#25c93a"><ellipse cx="224.5" cy="150.1" rx="3.71" ry="3.03"/><circle cx="222.8" cy="151.5" r="2.06"/><circle cx="225.9" cy="148.9" r="2.20"/><circle cx="225.7" cy="145.7" r="1.31"/><circle cx="228.6" cy="146.8" r="1.31"/><circle cx="228.9" cy="150.7" r="1.31"/><circle cx="228.5" cy="153.6" r="1.31"/><circle cx="232.6" cy="151.5" r="0.69"/><circle cx="230.7" cy="154.4" r="0.69"/></g>
<g fill="#de55bd"><ellipse cx="259.8" cy="169.4" rx="3.21" ry="2.61"/><circle cx="258.2" cy="170.5" r="1.78"/><circle cx="261.0" cy="168.3" r="1.90"/><circle cx="261.1" cy="165.5" r="1.13"/><circle cx="263.3" cy="166.8" r="1.13"/><circle cx="264.2" cy="169.5" r="1.13"/><circle cx="263.0" cy="172.1" r="1.13"/><circle cx="266.6" cy="170.0" r="0.59"/><circle cx="255.2" cy="169.5" r="0.59"/></g>
<g fill="#25c93a"><ellipse cx="281.3" cy="147.4" rx="3.71" ry="3.03"/><circle cx="279.5" cy="148.8" r="2.06"/><circle cx="282.7" cy="146.1" r="2.20"/><circle cx="283.5" cy="143.0" r="1.31"/><circle cx="285.4" cy="144.7" r="1.31"/><circle cx="285.8" cy="147.7" r="1.31"/><circle cx="284.4" cy="150.7" r="1.31"/><circle cx="276.1" cy="149.6" r="0.69"/><circle cx="289.1" cy="149.0" r="0.69"/></g>
<g fill="#de55bd"><ellipse cx="314.6" cy="170.1" rx="3.21" ry="2.61"/><circle cx="313.0" cy="171.3" r="1.78"/><circle cx="315.8" cy="169.0" r="1.90"/><circle cx="315.1" cy="165.6" r="1.13"/><circle cx="317.1" cy="167.2" r="1.13"/><circle cx="318.7" cy="169.3" r="1.13"/><circle cx="317.8" cy="172.3" r="1.13"/><circle cx="319.4" cy="164.6" r="0.59"/><circle cx="314.7" cy="163.4" r="0.59"/></g>
<g fill="#f6e71a"><circle cx="55.8" cy="151.0" r="1.38"/><circle cx="54.5" cy="151.7" r="1.10"/><circle cx="58.7" cy="151.7" r="1.03"/><circle cx="56.5" cy="153.0" r="0.98"/><circle cx="54.1" cy="152.4" r="0.83"/><circle cx="53.3" cy="150.7" r="1.01"/><circle cx="53.7" cy="148.8" r="0.76"/><circle cx="57.7" cy="148.5" r="0.78"/></g>
<g fill="#22cde6"><ellipse cx="79.7" cy="163.3" rx="2.67" ry="2.18"/><circle cx="78.4" cy="164.3" r="1.49"/><circle cx="80.7" cy="162.4" r="1.58"/><circle cx="80.2" cy="159.9" r="0.94"/><circle cx="81.8" cy="160.8" r="0.94"/><circle cx="83.5" cy="162.7" r="0.94"/><circle cx="82.8" cy="165.6" r="0.94"/><circle cx="82.9" cy="167.5" r="0.50"/><circle cx="84.1" cy="166.2" r="0.50"/></g>
<g fill="#f6e71a"><circle cx="109.4" cy="147.2" r="1.38"/><circle cx="108.1" cy="147.9" r="1.10"/><circle cx="112.9" cy="147.0" r="0.90"/><circle cx="111.0" cy="149.7" r="0.75"/><circle cx="107.0" cy="148.9" r="0.85"/><circle cx="106.8" cy="146.8" r="1.04"/><circle cx="108.1" cy="145.2" r="0.97"/><circle cx="110.6" cy="145.4" r="0.96"/></g>
<g fill="#22cde6"><ellipse cx="135.1" cy="164.7" rx="2.67" ry="2.18"/><circle cx="133.8" cy="165.7" r="1.49"/><circle cx="136.1" cy="163.8" r="1.58"/><circle cx="135.5" cy="161.4" r="0.94"/><circle cx="137.8" cy="161.8" r="0.94"/><circle cx="138.8" cy="164.1" r="0.94"/><circle cx="138.0" cy="166.0" r="0.94"/><circle cx="140.2" cy="165.2" r="0.50"/><circle cx="132.2" cy="161.1" r="0.50"/></g>
<g fill="#f6e71a"><circle cx="168.9" cy="152.5" r="1.38"/><circle cx="167.6" cy="153.2" r="1.10"/><circle cx="171.3" cy="153.0" r="0.79"/><circle cx="169.9" cy="154.2" r="0.72"/><circle cx="167.8" cy="154.3" r="0.83"/><circle cx="165.8" cy="152.9" r="0.91"/><circle cx="166.9" cy="150.5" r="0.87"/><circle cx="170.0" cy="149.7" r="0.80"/></g>
<g fill="#22cde6"><ellipse cx="198.5" cy="166.1" rx="2.67" ry="2.18"/><circle cx="197.2" cy="167.1" r="1.49"/><circle cx="199.5" cy="165.2" r="1.58"/><circle cx="198.5" cy="162.4" r="0.94"/><circle cx="201.3" cy="163.6" r="0.94"/><circle cx="201.8" cy="165.5" r="0.94"/><circle cx="201.9" cy="167.5" r="0.94"/><circle cx="194.9" cy="163.9" r="0.50"/><circle cx="196.3" cy="161.9" r="0.50"/></g>
<g fill="#f6e71a"><circle cx="231.4" cy="149.0" r="1.38"/><circle cx="230.1" cy="149.7" r="1.10"/><circle cx="234.0" cy="149.3" r="1.01"/><circle cx="233.6" cy="150.7" r="0.85"/><circle cx="230.5" cy="150.8" r="0.97"/><circle cx="228.4" cy="149.7" r="1.03"/><circle cx="229.7" cy="147.4" r="0.92"/><circle cx="233.1" cy="146.8" r="0.98"/></g>
<g fill="#22cde6"><ellipse cx="258.7" cy="164.7" rx="2.67" ry="2.18"/><circle cx="257.4" cy="165.6" r="1.49"/><circle cx="259.7" cy="163.8" r="1.58"/><circle cx="258.9" cy="161.3" r="0.94"/><circle cx="261.1" cy="161.6" r="0.94"/><circle cx="262.4" cy="164.4" r="0.94"/><circle cx="262.2" cy="166.2" r="0.94"/><circle cx="259.2" cy="159.5" r="0.50"/><circle cx="259.1" cy="159.5" r="0.50"/></g>
<g fill="#f6e71a"><circle cx="287.7" cy="149.8" r="1.38"/><circle cx="286.4" cy="150.5" r="1.10"/><circle cx="290.3" cy="149.3" r="0.73"/><circle cx="289.7" cy="152.0" r="0.94"/><circle cx="285.5" cy="151.8" r="0.80"/><circle cx="284.8" cy="149.7" r="0.98"/><circle cx="286.4" cy="147.9" r="0.93"/><circle cx="289.6" cy="148.4" r="1.01"/></g>
<g fill="#22cde6"><ellipse cx="316.8" cy="166.1" rx="2.67" ry="2.18"/><circle cx="315.5" cy="167.1" r="1.49"/><circle cx="317.8" cy="165.2" r="1.58"/><circle cx="316.7" cy="162.8" r="0.94"/><circle cx="319.5" cy="163.3" r="0.94"/><circle cx="320.2" cy="165.6" r="0.94"/><circle cx="319.7" cy="167.9" r="0.94"/><circle cx="317.9" cy="170.9" r="0.50"/><circle cx="314.1" cy="162.0" r="0.50"/></g>
</g>
<g clip-path="url(#cs3)">
<g fill="#de55bd"><ellipse cx="57.0" cy="227.6" rx="3.35" ry="2.73"/><circle cx="55.4" cy="228.8" r="1.86"/><circle cx="58.3" cy="226.5" r="1.99"/><circle cx="57.8" cy="223.2" r="1.18"/><circle cx="60.4" cy="224.3" r="1.18"/><circle cx="61.4" cy="227.2" r="1.18"/><circle cx="60.9" cy="229.9" r="1.18"/><circle cx="55.9" cy="232.5" r="0.62"/><circle cx="53.9" cy="223.2" r="0.62"/></g>
<g fill="#25c93a"><ellipse cx="88.2" cy="206.4" rx="3.35" ry="2.73"/><circle cx="86.6" cy="207.6" r="1.86"/><circle cx="89.4" cy="205.3" r="1.99"/><circle cx="88.5" cy="202.4" r="1.18"/><circle cx="91.5" cy="202.8" r="1.18"/><circle cx="92.3" cy="206.0" r="1.18"/><circle cx="91.7" cy="208.3" r="1.18"/><circle cx="86.9" cy="200.2" r="0.62"/><circle cx="87.0" cy="200.0" r="0.62"/></g>
<g fill="#de55bd"><ellipse cx="121.1" cy="228.3" rx="3.35" ry="2.73"/><circle cx="119.5" cy="229.6" r="1.86"/><circle cx="122.4" cy="227.2" r="1.99"/><circle cx="120.2" cy="224.1" r="1.18"/><circle cx="123.4" cy="224.1" r="1.18"/><circle cx="124.9" cy="226.8" r="1.18"/><circle cx="125.8" cy="229.6" r="1.18"/><circle cx="127.1" cy="225.7" r="0.62"/><circle cx="123.3" cy="233.0" r="0.62"/></g>
<g fill="#25c93a"><ellipse cx="154.2" cy="205.9" rx="3.35" ry="2.73"/><circle cx="152.6" cy="207.2" r="1.86"/><circle cx="155.5" cy="204.8" r="1.99"/><circle cx="153.4" cy="201.2" r="1.18"/><circle cx="156.3" cy="201.6" r="1.18"/><circle cx="158.0" cy="204.0" r="1.18"/><circle cx="158.3" cy="206.2" r="1.18"/><circle cx="155.2" cy="199.5" r="0.62"/><circle cx="152.4" cy="210.6" r="0.62"/></g>
<g fill="#de55bd"><ellipse cx="186.3" cy="228.8" rx="3.35" ry="2.73"/><circle cx="184.7" cy="230.1" r="1.86"/><circle cx="187.6" cy="227.7" r="1.99"/><circle cx="185.0" cy="224.8" r="1.18"/><circle cx="188.2" cy="224.9" r="1.18"/><circle cx="190.5" cy="226.3" r="1.18"/><circle cx="191.1" cy="229.6" r="1.18"/><circle cx="182.9" cy="224.4" r="0.62"/><circle cx="181.9" cy="231.2" r="0.62"/></g>
<g fill="#25c93a"><ellipse cx="218.1" cy="204.8" rx="3.35" ry="2.73"/><circle cx="216.5" cy="206.1" r="1.86"/><circle cx="219.4" cy="203.7" r="1.99"/><circle cx="218.4" cy="200.2" r="1.18"/><circle cx="221.1" cy="201.9" r="1.18"/><circle cx="222.2" cy="204.7" r="1.18"/><circle cx="221.5" cy="207.2" r="1.18"/><circle cx="224.7" cy="204.4" r="0.62"/><circle cx="219.5" cy="197.7" r="0.62"/></g>
<g fill="#de55bd"><ellipse cx="254.0" cy="228.8" rx="3.35" ry="2.73"/><circle cx="252.4" cy="230.1" r="1.86"/><circle cx="255.3" cy="227.7" r="1.99"/><circle cx="252.8" cy="224.6" r="1.18"/><circle cx="255.9" cy="225.1" r="1.18"/><circle cx="257.8" cy="226.7" r="1.18"/><circle cx="258.2" cy="229.8" r="1.18"/><circle cx="260.2" cy="226.1" r="0.62"/><circle cx="256.1" cy="234.3" r="0.62"/></g>
<g fill="#25c93a"><ellipse cx="282.9" cy="205.8" rx="3.35" ry="2.73"/><circle cx="281.3" cy="207.0" r="1.86"/><circle cx="284.1" cy="204.6" r="1.99"/><circle cx="282.3" cy="201.2" r="1.18"/><circle cx="285.3" cy="201.7" r="1.18"/><circle cx="287.5" cy="204.7" r="1.18"/><circle cx="286.8" cy="207.6" r="1.18"/><circle cx="278.9" cy="208.7" r="0.62"/><circle cx="288.0" cy="201.6" r="0.62"/></g>
<g fill="#de55bd"><ellipse cx="314.0" cy="228.5" rx="3.35" ry="2.73"/><circle cx="312.4" cy="229.7" r="1.86"/><circle cx="315.2" cy="227.4" r="1.99"/><circle cx="314.2" cy="224.3" r="1.18"/><circle cx="317.4" cy="225.0" r="1.18"/><circle cx="318.3" cy="228.2" r="1.18"/><circle cx="317.2" cy="231.2" r="1.18"/><circle cx="309.0" cy="229.6" r="0.62"/><circle cx="315.1" cy="221.7" r="0.62"/></g>
<g fill="#22cde6"><ellipse cx="60.4" cy="222.7" rx="2.79" ry="2.28"/><circle cx="59.0" cy="223.8" r="1.55"/><circle cx="61.4" cy="221.8" r="1.66"/><circle cx="60.4" cy="219.1" r="0.98"/><circle cx="62.7" cy="219.5" r="0.98"/><circle cx="64.3" cy="222.1" r="0.98"/><circle cx="63.8" cy="224.1" r="0.98"/><circle cx="61.8" cy="217.2" r="0.52"/><circle cx="64.6" cy="225.9" r="0.52"/></g>
<g fill="#f6e71a"><ellipse cx="88.6" cy="213.5" rx="3.73" ry="3.04"/><circle cx="86.8" cy="214.9" r="2.07"/><circle cx="90.0" cy="212.3" r="2.21"/><circle cx="89.1" cy="208.9" r="1.31"/><circle cx="92.2" cy="209.9" r="1.31"/><circle cx="93.2" cy="213.6" r="1.31"/><circle cx="92.7" cy="215.8" r="1.31"/><circle cx="86.5" cy="219.1" r="0.69"/><circle cx="93.1" cy="218.6" r="0.69"/></g>
<g fill="#22cde6"><ellipse cx="123.4" cy="224.3" rx="2.79" ry="2.28"/><circle cx="122.1" cy="225.3" r="1.55"/><circle cx="124.4" cy="223.3" r="1.66"/><circle cx="123.1" cy="220.4" r="0.98"/><circle cx="124.9" cy="220.5" r="0.98"/><circle cx="126.6" cy="222.5" r="0.98"/><circle cx="127.1" cy="225.7" r="0.98"/><circle cx="123.5" cy="218.7" r="0.52"/><circle cx="125.7" cy="228.6" r="0.52"/></g>
<g fill="#f6e71a"><ellipse cx="154.3" cy="212.6" rx="3.73" ry="3.04"/><circle cx="152.5" cy="214.0" r="2.07"/><circle cx="155.7" cy="211.3" r="2.21"/><circle cx="152.9" cy="208.0" r="1.31"/><circle cx="155.9" cy="208.0" r="1.31"/><circle cx="159.1" cy="210.6" r="1.31"/><circle cx="159.3" cy="213.6" r="1.31"/><circle cx="149.0" cy="213.2" r="0.69"/><circle cx="149.8" cy="207.8" r="0.69"/></g>
<g fill="#22cde6"><ellipse cx="187.1" cy="224.4" rx="2.79" ry="2.28"/><circle cx="185.7" cy="225.4" r="1.55"/><circle cx="188.1" cy="223.5" r="1.66"/><circle cx="187.8" cy="220.8" r="0.98"/><circle cx="189.8" cy="221.6" r="0.98"/><circle cx="190.5" cy="223.8" r="0.98"/><circle cx="190.5" cy="226.6" r="0.98"/><circle cx="188.6" cy="218.8" r="0.52"/><circle cx="190.9" cy="219.8" r="0.52"/></g>
<g fill="#f6e71a"><ellipse cx="222.0" cy="211.8" rx="3.73" ry="3.04"/><circle cx="220.3" cy="213.1" r="2.07"/><circle cx="223.4" cy="210.5" r="2.21"/><circle cx="222.2" cy="207.0" r="1.31"/><circle cx="225.1" cy="208.4" r="1.31"/><circle cx="227.2" cy="210.6" r="1.31"/><circle cx="226.5" cy="214.3" r="1.31"/><circle cx="223.0" cy="217.9" r="0.69"/><circle cx="216.3" cy="213.1" r="0.69"/></g>
<g fill="#22cde6"><ellipse cx="255.3" cy="222.8" rx="2.79" ry="2.28"/><circle cx="254.0" cy="223.8" r="1.55"/><circle cx="256.4" cy="221.9" r="1.66"/><circle cx="255.2" cy="218.7" r="0.98"/><circle cx="257.2" cy="219.4" r="0.98"/><circle cx="258.9" cy="221.9" r="0.98"/><circle cx="259.2" cy="224.2" r="0.98"/><circle cx="261.0" cy="223.5" r="0.52"/><circle cx="258.9" cy="226.8" r="0.52"/></g>
<g fill="#f6e71a"><ellipse cx="285.4" cy="210.9" rx="3.73" ry="3.04"/><circle cx="283.6" cy="212.3" r="2.07"/><circle cx="286.8" cy="209.7" r="2.21"/><circle cx="286.3" cy="206.5" r="1.31"/><circle cx="289.2" cy="207.7" r="1.31"/><circle cx="290.4" cy="210.9" r="1.31"/><circle cx="289.6" cy="214.2" r="1.31"/><circle cx="279.8" cy="209.6" r="0.69"/><circle cx="292.4" cy="208.4" r="0.69"/></g>
<g fill="#22cde6"><ellipse cx="315.3" cy="224.1" rx="2.79" ry="2.28"/><circle cx="313.9" cy="225.1" r="1.55"/><circle cx="316.3" cy="223.2" r="1.66"/><circle cx="315.4" cy="220.2" r="0.98"/><circle cx="317.7" cy="220.8" r="0.98"/><circle cx="318.6" cy="223.4" r="0.98"/><circle cx="318.6" cy="225.6" r="0.98"/><circle cx="321.0" cy="224.1" r="0.52"/><circle cx="311.4" cy="226.2" r="0.52"/></g>
</g>
<g clip-path="url(#cs4)">
<g fill="#25c93a"><ellipse cx="52.0" cy="267.3" rx="3.26" ry="2.66"/><circle cx="50.5" cy="268.5" r="1.81"/><circle cx="53.3" cy="266.2" r="1.93"/><ellipse cx="53.1" cy="264.3" rx="2.78" ry="0.91" transform="rotate(-70 53.1 264.3)"/><ellipse cx="55.2" cy="265.8" rx="3.16" ry="0.91" transform="rotate(-26 55.2 265.8)"/><ellipse cx="55.1" cy="267.8" rx="2.77" ry="0.91" transform="rotate(10 55.1 267.8)"/><ellipse cx="54.0" cy="269.8" rx="2.86" ry="0.91" transform="rotate(51 54.0 269.8)"/><circle cx="54.3" cy="272.4" r="0.60"/><circle cx="54.0" cy="260.9" r="0.60"/></g>
<g fill="#de55bd"><ellipse cx="72.0" cy="284.3" rx="4.02" ry="3.28"/><circle cx="70.1" cy="285.8" r="2.24"/><circle cx="73.5" cy="283.0" r="2.38"/><ellipse cx="74.0" cy="281.0" rx="3.65" ry="1.12" transform="rotate(-60 74.0 281.0)"/><ellipse cx="75.8" cy="282.6" rx="3.91" ry="1.12" transform="rotate(-25 75.8 282.6)"/><ellipse cx="75.8" cy="285.4" rx="3.70" ry="1.12" transform="rotate(15 75.8 285.4)"/><ellipse cx="74.1" cy="287.9" rx="3.81" ry="1.12" transform="rotate(60 74.1 287.9)"/><circle cx="66.3" cy="285.7" r="0.75"/><circle cx="66.8" cy="282.3" r="0.75"/></g>
<g fill="#25c93a"><ellipse cx="99.2" cy="267.6" rx="3.26" ry="2.66"/><circle cx="97.7" cy="268.8" r="1.81"/><circle cx="100.4" cy="266.5" r="1.93"/><ellipse cx="101.2" cy="264.8" rx="3.11" ry="0.91" transform="rotate(-55 101.2 264.8)"/><ellipse cx="102.3" cy="266.6" rx="2.86" ry="0.91" transform="rotate(-18 102.3 266.6)"/><ellipse cx="102.3" cy="268.7" rx="2.88" ry="0.91" transform="rotate(20 102.3 268.7)"/><ellipse cx="100.9" cy="270.2" rx="2.66" ry="0.91" transform="rotate(57 100.9 270.2)"/><circle cx="99.2" cy="262.1" r="0.60"/><circle cx="100.4" cy="273.4" r="0.60"/></g>
<g fill="#de55bd"><ellipse cx="126.7" cy="285.7" rx="4.02" ry="3.28"/><circle cx="124.8" cy="287.2" r="2.24"/><circle cx="128.2" cy="284.4" r="2.38"/><ellipse cx="128.4" cy="282.2" rx="3.70" ry="1.12" transform="rotate(-65 128.4 282.2)"/><ellipse cx="130.2" cy="284.2" rx="3.52" ry="1.12" transform="rotate(-23 130.2 284.2)"/><ellipse cx="130.6" cy="287.0" rx="3.84" ry="1.12" transform="rotate(19 130.6 287.0)"/><ellipse cx="129.6" cy="288.6" rx="3.82" ry="1.12" transform="rotate(45 129.6 288.6)"/><circle cx="134.3" cy="281.3" r="0.75"/><circle cx="132.9" cy="291.6" r="0.75"/></g>
<g fill="#25c93a"><ellipse cx="154.7" cy="265.8" rx="3.26" ry="2.66"/><circle cx="153.2" cy="267.0" r="1.81"/><circle cx="155.9" cy="264.7" r="1.93"/><ellipse cx="156.0" cy="263.1" rx="2.66" ry="0.91" transform="rotate(-66 156.0 263.1)"/><ellipse cx="158.0" cy="265.0" rx="3.01" ry="0.91" transform="rotate(-15 158.0 265.0)"/><ellipse cx="157.7" cy="266.6" rx="2.71" ry="0.91" transform="rotate(14 157.7 266.6)"/><ellipse cx="156.7" cy="268.2" rx="2.78" ry="0.91" transform="rotate(50 156.7 268.2)"/><circle cx="156.6" cy="260.1" r="0.60"/><circle cx="159.4" cy="271.0" r="0.60"/></g>
<g fill="#de55bd"><ellipse cx="182.3" cy="286.8" rx="4.02" ry="3.28"/><circle cx="180.4" cy="288.3" r="2.24"/><circle cx="183.8" cy="285.5" r="2.38"/><ellipse cx="184.4" cy="283.3" rx="3.86" ry="1.12" transform="rotate(-59 184.4 283.3)"/><ellipse cx="186.2" cy="285.8" rx="3.79" ry="1.12" transform="rotate(-15 186.2 285.8)"/><ellipse cx="186.1" cy="288.5" rx="3.87" ry="1.12" transform="rotate(24 186.1 288.5)"/><ellipse cx="184.1" cy="290.5" rx="3.83" ry="1.12" transform="rotate(64 184.1 290.5)"/><circle cx="186.0" cy="294.1" r="0.75"/><circle cx="176.0" cy="285.4" r="0.75"/></g>
<g fill="#25c93a"><ellipse cx="206.1" cy="265.9" rx="3.26" ry="2.66"/><circle cx="204.6" cy="267.1" r="1.81"/><circle cx="207.3" cy="264.8" r="1.93"/><ellipse cx="207.8" cy="263.1" rx="2.95" ry="0.91" transform="rotate(-60 207.8 263.1)"/><ellipse cx="208.9" cy="264.4" rx="2.78" ry="0.91" transform="rotate(-30 208.9 264.4)"/><ellipse cx="209.4" cy="266.3" rx="2.92" ry="0.91" transform="rotate(7 209.4 266.3)"/><ellipse cx="208.5" cy="268.2" rx="2.90" ry="0.91" transform="rotate(44 208.5 268.2)"/><circle cx="210.7" cy="270.5" r="0.60"/><circle cx="201.1" cy="265.9" r="0.60"/></g>
<g fill="#de55bd"><ellipse cx="233.7" cy="287.6" rx="4.02" ry="3.28"/><circle cx="231.8" cy="289.1" r="2.24"/><circle cx="235.2" cy="286.3" r="2.38"/><ellipse cx="235.8" cy="284.1" rx="3.83" ry="1.12" transform="rotate(-59 235.8 284.1)"/><ellipse cx="237.5" cy="286.6" rx="3.65" ry="1.12" transform="rotate(-15 237.5 286.6)"/><ellipse cx="237.4" cy="289.4" rx="3.83" ry="1.12" transform="rotate(26 237.4 289.4)"/><ellipse cx="235.6" cy="290.9" rx="3.55" ry="1.12" transform="rotate(60 235.6 290.9)"/><circle cx="241.4" cy="286.0" r="0.75"/><circle cx="230.0" cy="282.0" r="0.75"/></g>
<g fill="#25c93a"><ellipse cx="253.8" cy="264.8" rx="3.26" ry="2.66"/><circle cx="252.2" cy="266.0" r="1.81"/><circle cx="255.0" cy="263.7" r="1.93"/><ellipse cx="254.7" cy="261.6" rx="3.02" ry="0.91" transform="rotate(-75 254.7 261.6)"/><ellipse cx="256.5" cy="263.1" rx="2.83" ry="0.91" transform="rotate(-32 256.5 263.1)"/><ellipse cx="257.0" cy="265.2" rx="2.93" ry="0.91" transform="rotate(6 257.0 265.2)"/><ellipse cx="256.5" cy="266.9" rx="3.13" ry="0.91" transform="rotate(38 256.5 266.9)"/><circle cx="260.7" cy="265.8" r="0.60"/><circle cx="250.7" cy="260.5" r="0.60"/></g>
<g fill="#de55bd"><ellipse cx="283.8" cy="286.8" rx="4.02" ry="3.28"/><circle cx="281.9" cy="288.3" r="2.24"/><circle cx="285.3" cy="285.5" r="2.38"/><ellipse cx="286.1" cy="283.7" rx="3.59" ry="1.12" transform="rotate(-55 286.1 283.7)"/><ellipse cx="287.7" cy="285.8" rx="3.78" ry="1.12" transform="rotate(-14 287.7 285.8)"/><ellipse cx="287.4" cy="288.1" rx="3.56" ry="1.12" transform="rotate(20 287.4 288.1)"/><ellipse cx="285.7" cy="290.2" rx="3.64" ry="1.12" transform="rotate(61 285.7 290.2)"/><circle cx="288.2" cy="280.7" r="0.75"/><circle cx="288.3" cy="280.6" r="0.75"/></g>
<g fill="#25c93a"><ellipse cx="306.5" cy="265.9" rx="3.26" ry="2.66"/><circle cx="305.0" cy="267.1" r="1.81"/><circle cx="307.7" cy="264.8" r="1.93"/><ellipse cx="307.9" cy="262.9" rx="2.93" ry="0.91" transform="rotate(-66 307.9 262.9)"/><ellipse cx="309.7" cy="264.9" rx="3.00" ry="0.91" transform="rotate(-18 309.7 264.9)"/><ellipse cx="309.6" cy="266.8" rx="2.83" ry="0.91" transform="rotate(17 309.6 266.8)"/><ellipse cx="308.6" cy="268.3" rx="2.82" ry="0.91" transform="rotate(49 308.6 268.3)"/><circle cx="302.3" cy="262.7" r="0.60"/><circle cx="308.6" cy="260.6" r="0.60"/></g>
<g fill="#f6e71a"><ellipse cx="53.8" cy="269.2" rx="2.42" ry="1.97"/><circle cx="52.6" cy="270.1" r="1.35"/><circle cx="54.7" cy="268.4" r="1.44"/><ellipse cx="55.4" cy="267.2" rx="2.19" ry="0.67" transform="rotate(-51 55.4 267.2)"/><ellipse cx="56.1" cy="268.1" rx="2.09" ry="0.67" transform="rotate(-25 56.1 268.1)"/><ellipse cx="56.2" cy="269.7" rx="2.05" ry="0.67" transform="rotate(13 56.2 269.7)"/><ellipse cx="54.9" cy="271.5" rx="2.21" ry="0.67" transform="rotate(64 54.9 271.5)"/><circle cx="51.9" cy="265.3" r="0.45"/><circle cx="58.3" cy="266.8" r="0.45"/></g>
<g fill="#22cde6"><ellipse cx="76.9" cy="279.0" rx="2.79" ry="2.28"/><circle cx="75.5" cy="280.1" r="1.55"/><circle cx="77.9" cy="278.1" r="1.66"/><ellipse cx="78.4" cy="276.5" rx="2.59" ry="0.78" transform="rotate(-58 78.4 276.5)"/><ellipse cx="79.6" cy="278.0" rx="2.59" ry="0.78" transform="rotate(-20 79.6 278.0)"/><ellipse cx="79.7" cy="279.7" rx="2.58" ry="0.78" transform="rotate(13 79.7 279.7)"/><ellipse cx="78.6" cy="281.5" rx="2.62" ry="0.78" transform="rotate(54 78.6 281.5)"/><circle cx="81.5" cy="281.8" r="0.52"/><circle cx="82.9" cy="280.2" r="0.52"/></g>
<g fill="#22cde6"><ellipse cx="57.9" cy="288.2" rx="2.79" ry="2.28"/><circle cx="56.5" cy="289.2" r="1.55"/><circle cx="58.9" cy="287.3" r="1.66"/><ellipse cx="59.7" cy="286.1" rx="2.44" ry="0.78" transform="rotate(-49 59.7 286.1)"/><ellipse cx="60.8" cy="287.8" rx="2.64" ry="0.78" transform="rotate(-9 60.8 287.8)"/><ellipse cx="60.4" cy="289.4" rx="2.39" ry="0.78" transform="rotate(26 60.4 289.4)"/><ellipse cx="59.3" cy="290.7" rx="2.47" ry="0.78" transform="rotate(61 59.3 290.7)"/><circle cx="56.6" cy="292.8" r="0.52"/><circle cx="55.2" cy="284.0" r="0.52"/></g>
<g fill="#f6e71a"><ellipse cx="104.8" cy="264.7" rx="2.42" ry="1.97"/><circle cx="103.7" cy="265.6" r="1.35"/><circle cx="105.7" cy="263.9" r="1.44"/><ellipse cx="105.4" cy="262.4" rx="1.99" ry="0.67" transform="rotate(-75 105.4 262.4)"/><ellipse cx="106.8" cy="262.9" rx="2.29" ry="0.67" transform="rotate(-43 106.8 262.9)"/><ellipse cx="107.5" cy="264.8" rx="2.34" ry="0.67" transform="rotate(2 107.5 264.8)"/><ellipse cx="106.7" cy="266.2" rx="1.98" ry="0.67" transform="rotate(38 106.7 266.2)"/><circle cx="102.1" cy="267.4" r="0.45"/><circle cx="110.0" cy="262.6" r="0.45"/></g>
<g fill="#22cde6"><ellipse cx="133.2" cy="281.8" rx="2.79" ry="2.28"/><circle cx="131.8" cy="282.8" r="1.55"/><circle cx="134.2" cy="280.9" r="1.66"/><ellipse cx="134.3" cy="279.3" rx="2.32" ry="0.78" transform="rotate(-65 134.3 279.3)"/><ellipse cx="135.7" cy="280.7" rx="2.37" ry="0.78" transform="rotate(-24 135.7 280.7)"/><ellipse cx="135.8" cy="282.2" rx="2.28" ry="0.78" transform="rotate(8 135.8 282.2)"/><ellipse cx="135.3" cy="283.8" rx="2.59" ry="0.78" transform="rotate(44 135.3 283.8)"/><circle cx="138.0" cy="285.5" r="0.52"/><circle cx="138.6" cy="284.6" r="0.52"/></g>
<g fill="#f6e71a"><ellipse cx="160.2" cy="264.2" rx="2.42" ry="1.97"/><circle cx="159.0" cy="265.1" r="1.35"/><circle cx="161.1" cy="263.4" r="1.44"/><ellipse cx="160.7" cy="261.6" rx="2.26" ry="0.67" transform="rotate(-80 160.7 261.6)"/><ellipse cx="162.3" cy="262.5" rx="2.26" ry="0.67" transform="rotate(-39 162.3 262.5)"/><ellipse cx="162.6" cy="264.1" rx="1.99" ry="0.67" transform="rotate(-2 162.6 264.1)"/><ellipse cx="162.1" cy="266.1" rx="2.26" ry="0.67" transform="rotate(45 162.1 266.1)"/><circle cx="163.7" cy="260.4" r="0.45"/><circle cx="164.8" cy="266.3" r="0.45"/></g>
<g fill="#22cde6"><ellipse cx="186.8" cy="281.7" rx="2.79" ry="2.28"/><circle cx="185.4" cy="282.7" r="1.55"/><circle cx="187.8" cy="280.8" r="1.66"/><ellipse cx="188.4" cy="279.1" rx="2.70" ry="0.78" transform="rotate(-58 188.4 279.1)"/><ellipse cx="189.6" cy="280.5" rx="2.72" ry="0.78" transform="rotate(-22 189.6 280.5)"/><ellipse cx="189.2" cy="282.7" rx="2.28" ry="0.78" transform="rotate(22 189.2 282.7)"/><ellipse cx="188.6" cy="284.0" rx="2.57" ry="0.78" transform="rotate(51 188.6 284.0)"/><circle cx="189.5" cy="277.5" r="0.52"/><circle cx="185.6" cy="286.6" r="0.52"/></g>
<g fill="#f6e71a"><ellipse cx="217.0" cy="265.2" rx="2.42" ry="1.97"/><circle cx="215.8" cy="266.1" r="1.35"/><circle cx="217.9" cy="264.4" r="1.44"/><ellipse cx="218.0" cy="262.8" rx="2.17" ry="0.67" transform="rotate(-68 218.0 262.8)"/><ellipse cx="218.9" cy="263.6" rx="2.12" ry="0.67" transform="rotate(-40 218.9 263.6)"/><ellipse cx="219.6" cy="265.4" rx="2.15" ry="0.67" transform="rotate(5 219.6 265.4)"/><ellipse cx="218.8" cy="266.9" rx="2.03" ry="0.67" transform="rotate(44 218.8 266.9)"/><circle cx="218.9" cy="260.9" r="0.45"/><circle cx="214.9" cy="261.4" r="0.45"/></g>
<g fill="#22cde6"><ellipse cx="239.3" cy="283.1" rx="2.79" ry="2.28"/><circle cx="237.9" cy="284.2" r="1.55"/><circle cx="240.3" cy="282.2" r="1.66"/><ellipse cx="240.5" cy="280.4" rx="2.64" ry="0.78" transform="rotate(-67 240.5 280.4)"/><ellipse cx="242.1" cy="282.0" rx="2.63" ry="0.78" transform="rotate(-21 242.1 282.0)"/><ellipse cx="242.0" cy="283.7" rx="2.41" ry="0.78" transform="rotate(12 242.0 283.7)"/><ellipse cx="241.5" cy="285.2" rx="2.72" ry="0.78" transform="rotate(43 241.5 285.2)"/><circle cx="238.5" cy="277.8" r="0.52"/><circle cx="237.6" cy="287.5" r="0.52"/></g>
<g fill="#f6e71a"><ellipse cx="268.0" cy="265.7" rx="2.42" ry="1.97"/><circle cx="266.8" cy="266.6" r="1.35"/><circle cx="268.9" cy="264.9" r="1.44"/><ellipse cx="269.8" cy="263.9" rx="2.21" ry="0.67" transform="rotate(-45 269.8 263.9)"/><ellipse cx="270.5" cy="265.1" rx="2.14" ry="0.67" transform="rotate(-14 270.5 265.1)"/><ellipse cx="270.1" cy="267.1" rx="2.12" ry="0.67" transform="rotate(32 270.1 267.1)"/><ellipse cx="269.0" cy="268.1" rx="2.21" ry="0.67" transform="rotate(68 269.0 268.1)"/><circle cx="272.4" cy="263.0" r="0.45"/><circle cx="267.9" cy="269.7" r="0.45"/></g>
<g fill="#22cde6"><ellipse cx="289.5" cy="283.7" rx="2.79" ry="2.28"/><circle cx="288.1" cy="284.7" r="1.55"/><circle cx="290.5" cy="282.7" r="1.66"/><ellipse cx="290.4" cy="280.9" rx="2.54" ry="0.78" transform="rotate(-71 290.4 280.9)"/><ellipse cx="292.2" cy="282.3" rx="2.68" ry="0.78" transform="rotate(-27 292.2 282.3)"/><ellipse cx="292.5" cy="283.7" rx="2.66" ry="0.78" transform="rotate(0 292.5 283.7)"/><ellipse cx="291.5" cy="286.0" rx="2.67" ry="0.78" transform="rotate(49 291.5 286.0)"/><circle cx="285.9" cy="281.4" r="0.52"/><circle cx="293.5" cy="279.2" r="0.52"/></g>
<g fill="#f6e71a"><ellipse cx="315.3" cy="265.8" rx="2.42" ry="1.97"/><circle cx="314.1" cy="266.7" r="1.35"/><circle cx="316.2" cy="265.0" r="1.44"/><ellipse cx="316.8" cy="263.8" rx="2.11" ry="0.67" transform="rotate(-52 316.8 263.8)"/><ellipse cx="317.6" cy="264.7" rx="2.19" ry="0.67" transform="rotate(-25 317.6 264.7)"/><ellipse cx="317.6" cy="266.8" rx="2.05" ry="0.67" transform="rotate(23 317.6 266.8)"/><ellipse cx="316.6" cy="268.2" rx="2.34" ry="0.67" transform="rotate(60 316.6 268.2)"/><circle cx="316.5" cy="270.3" r="0.45"/><circle cx="314.1" cy="261.9" r="0.45"/></g>
</g>
<g clip-path="url(#cs5)">
<g fill="#de55bd"><ellipse cx="59.9" cy="346.1" rx="4.02" ry="3.28"/><circle cx="58.0" cy="347.6" r="2.24"/><circle cx="61.4" cy="344.7" r="2.38"/><ellipse cx="61.4" cy="342.2" rx="3.85" ry="1.12" transform="rotate(-69 61.4 342.2)"/><ellipse cx="63.5" cy="344.5" rx="3.66" ry="1.12" transform="rotate(-23 63.5 344.5)"/><ellipse cx="64.0" cy="346.4" rx="3.89" ry="1.12" transform="rotate(5 64.0 346.4)"/><ellipse cx="62.2" cy="349.1" rx="3.51" ry="1.12" transform="rotate(53 62.2 349.1)"/><circle cx="54.2" cy="342.1" r="0.75"/><circle cx="66.6" cy="341.0" r="0.75"/></g>
<g fill="#25c93a"><ellipse cx="89.9" cy="324.0" rx="3.26" ry="2.66"/><circle cx="88.4" cy="325.2" r="1.81"/><circle cx="91.1" cy="322.9" r="1.93"/><ellipse cx="91.7" cy="321.4" rx="2.82" ry="0.91" transform="rotate(-57 91.7 321.4)"/><ellipse cx="92.8" cy="322.7" rx="2.82" ry="0.91" transform="rotate(-24 92.8 322.7)"/><ellipse cx="93.0" cy="325.2" rx="2.92" ry="0.91" transform="rotate(21 93.0 325.2)"/><ellipse cx="91.7" cy="326.8" rx="2.94" ry="0.91" transform="rotate(58 91.7 326.8)"/><circle cx="85.4" cy="323.4" r="0.60"/><circle cx="97.2" cy="325.8" r="0.60"/></g>
<g fill="#de55bd"><ellipse cx="113.5" cy="346.8" rx="4.02" ry="3.28"/><circle cx="111.6" cy="348.3" r="2.24"/><circle cx="115.0" cy="345.4" r="2.38"/><ellipse cx="115.1" cy="343.1" rx="3.78" ry="1.12" transform="rotate(-66 115.1 343.1)"/><ellipse cx="117.1" cy="345.6" rx="3.46" ry="1.12" transform="rotate(-19 117.1 345.6)"/><ellipse cx="117.2" cy="347.9" rx="3.59" ry="1.12" transform="rotate(17 117.2 347.9)"/><ellipse cx="115.7" cy="349.7" rx="3.37" ry="1.12" transform="rotate(54 115.7 349.7)"/><circle cx="122.6" cy="348.4" r="0.75"/><circle cx="119.5" cy="341.3" r="0.75"/></g>
<g fill="#25c93a"><ellipse cx="143.9" cy="324.0" rx="3.91" ry="3.19"/><circle cx="142.1" cy="325.4" r="2.17"/><circle cx="145.4" cy="322.7" r="2.32"/><ellipse cx="146.0" cy="320.5" rx="3.76" ry="1.09" transform="rotate(-59 146.0 320.5)"/><ellipse cx="147.9" cy="322.7" rx="3.87" ry="1.09" transform="rotate(-18 147.9 322.7)"/><ellipse cx="147.6" cy="325.7" rx="3.79" ry="1.09" transform="rotate(25 147.6 325.7)"/><ellipse cx="145.5" cy="327.3" rx="3.43" ry="1.09" transform="rotate(66 145.5 327.3)"/><circle cx="151.6" cy="325.6" r="0.72"/><circle cx="147.8" cy="329.9" r="0.72"/></g>
<g fill="#de55bd"><ellipse cx="165.0" cy="347.6" rx="4.02" ry="3.28"/><circle cx="163.1" cy="349.1" r="2.24"/><circle cx="166.5" cy="346.2" r="2.38"/><ellipse cx="166.5" cy="343.7" rx="3.93" ry="1.12" transform="rotate(-69 166.5 343.7)"/><ellipse cx="168.6" cy="345.3" rx="3.98" ry="1.12" transform="rotate(-33 168.6 345.3)"/><ellipse cx="168.7" cy="348.3" rx="3.40" ry="1.12" transform="rotate(12 168.7 348.3)"/><ellipse cx="167.8" cy="350.4" rx="3.62" ry="1.12" transform="rotate(46 167.8 350.4)"/><circle cx="172.0" cy="352.8" r="0.75"/><circle cx="165.9" cy="354.7" r="0.75"/></g>
<g fill="#25c93a"><ellipse cx="198.2" cy="322.1" rx="3.26" ry="2.66"/><circle cx="196.7" cy="323.3" r="1.81"/><circle cx="199.4" cy="321.0" r="1.93"/><ellipse cx="200.6" cy="319.6" rx="3.08" ry="0.91" transform="rotate(-47 200.6 319.6)"/><ellipse cx="201.4" cy="321.2" rx="2.96" ry="0.91" transform="rotate(-17 201.4 321.2)"/><ellipse cx="201.6" cy="323.3" rx="3.24" ry="0.91" transform="rotate(18 201.6 323.3)"/><ellipse cx="199.4" cy="325.1" rx="2.84" ry="0.91" transform="rotate(68 199.4 325.1)"/><circle cx="204.7" cy="323.6" r="0.60"/><circle cx="195.4" cy="327.3" r="0.60"/></g>
<g fill="#de55bd"><ellipse cx="221.8" cy="346.5" rx="4.02" ry="3.28"/><circle cx="219.9" cy="348.0" r="2.24"/><circle cx="223.3" cy="345.1" r="2.38"/><ellipse cx="224.6" cy="344.0" rx="3.39" ry="1.12" transform="rotate(-41 224.6 344.0)"/><ellipse cx="225.9" cy="346.2" rx="3.83" ry="1.12" transform="rotate(-4 225.9 346.2)"/><ellipse cx="225.4" cy="348.8" rx="4.01" ry="1.12" transform="rotate(33 225.4 348.8)"/><ellipse cx="223.5" cy="349.8" rx="3.46" ry="1.12" transform="rotate(63 223.5 349.8)"/><circle cx="223.2" cy="338.7" r="0.75"/><circle cx="219.9" cy="340.4" r="0.75"/></g>
<g fill="#25c93a"><ellipse cx="253.1" cy="322.2" rx="3.26" ry="2.66"/><circle cx="251.6" cy="323.4" r="1.81"/><circle cx="254.3" cy="321.1" r="1.93"/><ellipse cx="255.1" cy="319.7" rx="2.78" ry="0.91" transform="rotate(-51 255.1 319.7)"/><ellipse cx="256.2" cy="321.1" rx="2.86" ry="0.91" transform="rotate(-19 256.2 321.1)"/><ellipse cx="256.3" cy="323.1" rx="2.98" ry="0.91" transform="rotate(17 256.3 323.1)"/><ellipse cx="254.9" cy="324.8" rx="2.85" ry="0.91" transform="rotate(55 254.9 324.8)"/><circle cx="257.9" cy="327.0" r="0.60"/><circle cx="260.3" cy="322.7" r="0.60"/></g>
<g fill="#de55bd"><ellipse cx="275.9" cy="346.1" rx="4.02" ry="3.28"/><circle cx="274.0" cy="347.6" r="2.24"/><circle cx="277.4" cy="344.7" r="2.38"/><ellipse cx="277.2" cy="342.1" rx="3.97" ry="1.12" transform="rotate(-72 277.2 342.1)"/><ellipse cx="279.5" cy="343.9" rx="3.97" ry="1.12" transform="rotate(-32 279.5 343.9)"/><ellipse cx="280.0" cy="347.2" rx="3.94" ry="1.12" transform="rotate(15 280.0 347.2)"/><ellipse cx="278.8" cy="348.8" rx="3.65" ry="1.12" transform="rotate(44 278.8 348.8)"/><circle cx="283.6" cy="350.4" r="0.75"/><circle cx="281.2" cy="339.6" r="0.75"/></g>
<g fill="#25c93a"><ellipse cx="306.5" cy="323.5" rx="3.26" ry="2.66"/><circle cx="305.0" cy="324.7" r="1.81"/><circle cx="307.7" cy="322.4" r="1.93"/><ellipse cx="308.2" cy="320.5" rx="3.16" ry="0.91" transform="rotate(-61 308.2 320.5)"/><ellipse cx="309.7" cy="322.3" rx="3.06" ry="0.91" transform="rotate(-21 309.7 322.3)"/><ellipse cx="309.6" cy="324.2" rx="2.84" ry="0.91" transform="rotate(13 309.6 324.2)"/><ellipse cx="308.7" cy="326.1" rx="3.10" ry="0.91" transform="rotate(50 308.7 326.1)"/><circle cx="302.3" cy="321.7" r="0.60"/><circle cx="311.4" cy="319.4" r="0.60"/></g>
<g fill="#22cde6"><ellipse cx="65.6" cy="340.1" rx="2.79" ry="2.28"/><circle cx="64.2" cy="341.2" r="1.55"/><circle cx="66.6" cy="339.2" r="1.66"/><ellipse cx="66.8" cy="337.6" rx="2.46" ry="0.78" transform="rotate(-65 66.8 337.6)"/><ellipse cx="68.3" cy="339.3" rx="2.49" ry="0.78" transform="rotate(-17 68.3 339.3)"/><ellipse cx="68.4" cy="340.7" rx="2.56" ry="0.78" transform="rotate(12 68.4 340.7)"/><ellipse cx="67.5" cy="342.6" rx="2.75" ry="0.78" transform="rotate(52 67.5 342.6)"/><circle cx="70.6" cy="343.8" r="0.52"/><circle cx="71.5" cy="342.0" r="0.52"/></g>
<g fill="#f6e71a"><ellipse cx="94.7" cy="327.4" rx="2.42" ry="1.97"/><circle cx="93.5" cy="328.3" r="1.35"/><circle cx="95.6" cy="326.6" r="1.44"/><ellipse cx="96.1" cy="325.3" rx="2.21" ry="0.67" transform="rotate(-56 96.1 325.3)"/><ellipse cx="97.1" cy="326.7" rx="2.12" ry="0.67" transform="rotate(-17 97.1 326.7)"/><ellipse cx="97.1" cy="328.3" rx="2.17" ry="0.67" transform="rotate(20 97.1 328.3)"/><ellipse cx="95.7" cy="330.0" rx="2.42" ry="0.67" transform="rotate(69 95.7 330.0)"/><circle cx="99.0" cy="325.7" r="0.45"/><circle cx="94.2" cy="332.1" r="0.45"/></g>
<g fill="#22cde6"><ellipse cx="121.8" cy="343.5" rx="2.79" ry="2.28"/><circle cx="120.4" cy="344.5" r="1.55"/><circle cx="122.8" cy="342.6" r="1.66"/><ellipse cx="122.9" cy="340.9" rx="2.47" ry="0.78" transform="rotate(-67 122.9 340.9)"/><ellipse cx="124.3" cy="342.3" rx="2.34" ry="0.78" transform="rotate(-25 124.3 342.3)"/><ellipse cx="124.6" cy="344.0" rx="2.49" ry="0.78" transform="rotate(11 124.6 344.0)"/><ellipse cx="123.9" cy="345.2" rx="2.33" ry="0.78" transform="rotate(40 123.9 345.2)"/><circle cx="125.1" cy="338.9" r="0.52"/><circle cx="124.6" cy="347.9" r="0.52"/></g>
<g fill="#f6e71a"><ellipse cx="152.8" cy="327.4" rx="2.42" ry="1.97"/><circle cx="151.6" cy="328.3" r="1.35"/><circle cx="153.7" cy="326.5" r="1.44"/><ellipse cx="154.5" cy="325.3" rx="2.25" ry="0.67" transform="rotate(-49 154.5 325.3)"/><ellipse cx="155.2" cy="326.8" rx="2.09" ry="0.67" transform="rotate(-12 155.2 326.8)"/><ellipse cx="155.0" cy="328.9" rx="2.30" ry="0.67" transform="rotate(35 155.0 328.9)"/><ellipse cx="153.8" cy="329.6" rx="2.05" ry="0.67" transform="rotate(65 153.8 329.6)"/><circle cx="157.3" cy="329.8" r="0.45"/><circle cx="149.3" cy="327.6" r="0.45"/></g>
<g fill="#22cde6"><ellipse cx="177.3" cy="341.6" rx="2.79" ry="2.28"/><circle cx="175.9" cy="342.7" r="1.55"/><circle cx="178.3" cy="340.7" r="1.66"/><ellipse cx="178.6" cy="338.9" rx="2.66" ry="0.78" transform="rotate(-64 178.6 338.9)"/><ellipse cx="180.0" cy="340.5" rx="2.60" ry="0.78" transform="rotate(-23 180.0 340.5)"/><ellipse cx="180.0" cy="341.9" rx="2.36" ry="0.78" transform="rotate(7 180.0 341.9)"/><ellipse cx="179.1" cy="343.9" rx="2.52" ry="0.78" transform="rotate(52 179.1 343.9)"/><circle cx="177.3" cy="337.0" r="0.52"/><circle cx="179.9" cy="336.9" r="0.52"/></g>
<g fill="#f6e71a"><ellipse cx="209.1" cy="324.7" rx="2.42" ry="1.97"/><circle cx="207.9" cy="325.6" r="1.35"/><circle cx="210.0" cy="323.9" r="1.44"/><ellipse cx="211.0" cy="322.9" rx="2.22" ry="0.67" transform="rotate(-42 211.0 322.9)"/><ellipse cx="211.8" cy="323.9" rx="2.38" ry="0.67" transform="rotate(-16 211.8 323.9)"/><ellipse cx="211.5" cy="326.0" rx="2.37" ry="0.67" transform="rotate(29 211.5 326.0)"/><ellipse cx="210.2" cy="326.9" rx="2.10" ry="0.67" transform="rotate(64 210.2 326.9)"/><circle cx="211.9" cy="321.1" r="0.45"/><circle cx="212.0" cy="328.5" r="0.45"/></g>
<g fill="#22cde6"><ellipse cx="234.1" cy="342.5" rx="2.79" ry="2.28"/><circle cx="232.7" cy="343.5" r="1.55"/><circle cx="235.1" cy="341.5" r="1.66"/><ellipse cx="235.5" cy="339.9" rx="2.57" ry="0.78" transform="rotate(-61 235.5 339.9)"/><ellipse cx="236.9" cy="341.6" rx="2.57" ry="0.78" transform="rotate(-17 236.9 341.6)"/><ellipse cx="237.0" cy="343.3" rx="2.66" ry="0.78" transform="rotate(17 237.0 343.3)"/><ellipse cx="235.4" cy="345.2" rx="2.73" ry="0.78" transform="rotate(64 235.4 345.2)"/><circle cx="232.6" cy="347.3" r="0.52"/><circle cx="231.0" cy="346.1" r="0.52"/></g>
<g fill="#f6e71a"><ellipse cx="261.9" cy="325.8" rx="2.42" ry="1.97"/><circle cx="260.7" cy="326.7" r="1.35"/><circle cx="262.8" cy="324.9" r="1.44"/><ellipse cx="263.1" cy="323.2" rx="2.40" ry="0.67" transform="rotate(-65 263.1 323.2)"/><ellipse cx="264.1" cy="324.4" rx="2.23" ry="0.67" transform="rotate(-32 264.1 324.4)"/><ellipse cx="264.5" cy="326.1" rx="2.23" ry="0.67" transform="rotate(7 264.5 326.1)"/><ellipse cx="264.1" cy="327.5" rx="2.40" ry="0.67" transform="rotate(38 264.1 327.5)"/><circle cx="263.3" cy="329.7" r="0.45"/><circle cx="265.9" cy="328.1" r="0.45"/></g>
<g fill="#22cde6"><ellipse cx="286.9" cy="341.9" rx="2.79" ry="2.28"/><circle cx="285.5" cy="342.9" r="1.55"/><circle cx="287.9" cy="340.9" r="1.66"/><ellipse cx="288.5" cy="339.6" rx="2.38" ry="0.78" transform="rotate(-55 288.5 339.6)"/><ellipse cx="289.7" cy="341.5" rx="2.42" ry="0.78" transform="rotate(-7 289.7 341.5)"/><ellipse cx="289.6" cy="343.0" rx="2.61" ry="0.78" transform="rotate(22 289.6 343.0)"/><ellipse cx="288.0" cy="344.6" rx="2.57" ry="0.78" transform="rotate(67 288.0 344.6)"/><circle cx="286.3" cy="337.5" r="0.52"/><circle cx="291.3" cy="338.1" r="0.52"/></g>
<g fill="#f6e71a"><ellipse cx="313.4" cy="325.0" rx="2.42" ry="1.97"/><circle cx="312.2" cy="325.9" r="1.35"/><circle cx="314.3" cy="324.2" r="1.44"/><ellipse cx="314.1" cy="322.4" rx="2.22" ry="0.67" transform="rotate(-76 314.1 322.4)"/><ellipse cx="315.6" cy="323.6" rx="2.13" ry="0.67" transform="rotate(-32 315.6 323.6)"/><ellipse cx="316.0" cy="325.0" rx="2.18" ry="0.67" transform="rotate(1 316.0 325.0)"/><ellipse cx="315.5" cy="326.6" rx="2.26" ry="0.67" transform="rotate(39 315.5 326.6)"/><circle cx="316.7" cy="321.7" r="0.45"/><circle cx="310.0" cy="322.8" r="0.45"/></g>
</g>
<g clip-path="url(#cs6)">
<g fill="#de55bd"><ellipse cx="76.2" cy="399.9" rx="3.50" ry="2.85"/><circle cx="74.5" cy="401.2" r="1.94"/><circle cx="77.5" cy="398.7" r="2.07"/><ellipse cx="77.2" cy="396.5" rx="3.17" ry="0.97" transform="rotate(-74 77.2 396.5)"/><ellipse cx="78.6" cy="397.7" rx="2.88" ry="0.97" transform="rotate(-42 78.6 397.7)"/><ellipse cx="79.5" cy="400.0" rx="2.94" ry="0.97" transform="rotate(3 79.5 400.0)"/><ellipse cx="79.1" cy="401.9" rx="3.17" ry="0.97" transform="rotate(35 79.1 401.9)"/><circle cx="78.2" cy="393.4" r="0.65"/><circle cx="77.6" cy="405.6" r="0.65"/></g>
<g fill="#25c93a"><ellipse cx="101.8" cy="387.5" rx="3.56" ry="2.90"/><circle cx="100.1" cy="388.9" r="1.98"/><circle cx="103.1" cy="386.4" r="2.11"/><ellipse cx="103.3" cy="384.4" rx="3.15" ry="0.99" transform="rotate(-64 103.3 384.4)"/><ellipse cx="104.9" cy="386.0" rx="3.16" ry="0.99" transform="rotate(-27 104.9 386.0)"/><ellipse cx="104.8" cy="388.1" rx="2.72" ry="0.99" transform="rotate(11 104.8 388.1)"/><ellipse cx="104.3" cy="390.0" rx="3.24" ry="0.99" transform="rotate(44 104.3 390.0)"/><circle cx="108.4" cy="384.8" r="0.66"/><circle cx="96.9" cy="390.4" r="0.66"/></g>
<g fill="#de55bd"><ellipse cx="132.7" cy="401.6" rx="3.50" ry="2.85"/><circle cx="131.0" cy="402.9" r="1.94"/><circle cx="134.0" cy="400.4" r="2.07"/><ellipse cx="133.6" cy="398.7" rx="2.68" ry="0.97" transform="rotate(-72 133.6 398.7)"/><ellipse cx="135.4" cy="399.7" rx="2.93" ry="0.97" transform="rotate(-35 135.4 399.7)"/><ellipse cx="135.8" cy="401.4" rx="2.72" ry="0.97" transform="rotate(-3 135.8 401.4)"/><ellipse cx="135.0" cy="404.1" rx="3.08" ry="0.97" transform="rotate(48 135.0 404.1)"/><circle cx="139.7" cy="398.8" r="0.65"/><circle cx="136.2" cy="394.9" r="0.65"/></g>
<g fill="#25c93a"><ellipse cx="154.6" cy="384.7" rx="3.56" ry="2.90"/><circle cx="152.9" cy="386.0" r="1.98"/><circle cx="156.0" cy="383.5" r="2.11"/><ellipse cx="156.1" cy="381.7" rx="3.06" ry="0.99" transform="rotate(-64 156.1 381.7)"/><ellipse cx="157.8" cy="383.4" rx="3.08" ry="0.99" transform="rotate(-23 157.8 383.4)"/><ellipse cx="157.9" cy="385.6" rx="3.00" ry="0.99" transform="rotate(16 157.9 385.6)"/><ellipse cx="156.2" cy="387.7" rx="3.05" ry="0.99" transform="rotate(63 156.2 387.7)"/><circle cx="155.7" cy="391.2" r="0.66"/><circle cx="149.2" cy="387.6" r="0.66"/></g>
<g fill="#de55bd"><ellipse cx="186.8" cy="402.4" rx="3.50" ry="2.85"/><circle cx="185.1" cy="403.7" r="1.94"/><circle cx="188.1" cy="401.2" r="2.07"/><ellipse cx="187.5" cy="399.2" rx="3.01" ry="0.97" transform="rotate(-78 187.5 399.2)"/><ellipse cx="189.3" cy="400.2" rx="2.98" ry="0.97" transform="rotate(-42 189.3 400.2)"/><ellipse cx="190.0" cy="402.9" rx="2.93" ry="0.97" transform="rotate(8 190.0 402.9)"/><ellipse cx="189.4" cy="404.3" rx="2.90" ry="0.97" transform="rotate(37 189.4 404.3)"/><circle cx="182.0" cy="400.9" r="0.65"/><circle cx="192.0" cy="406.2" r="0.65"/></g>
<g fill="#25c93a"><ellipse cx="214.1" cy="385.8" rx="3.56" ry="2.90"/><circle cx="212.4" cy="387.1" r="1.98"/><circle cx="215.4" cy="384.6" r="2.11"/><ellipse cx="214.9" cy="382.7" rx="2.85" ry="0.99" transform="rotate(-76 214.9 382.7)"/><ellipse cx="216.5" cy="383.8" rx="2.74" ry="0.99" transform="rotate(-40 216.5 383.8)"/><ellipse cx="217.6" cy="386.0" rx="3.17" ry="0.99" transform="rotate(2 217.6 386.0)"/><ellipse cx="216.6" cy="388.0" rx="3.02" ry="0.99" transform="rotate(41 216.6 388.0)"/><circle cx="211.5" cy="380.6" r="0.66"/><circle cx="213.5" cy="379.3" r="0.66"/></g>
<g fill="#de55bd"><ellipse cx="246.3" cy="401.0" rx="3.50" ry="2.85"/><circle cx="244.6" cy="402.3" r="1.94"/><circle cx="247.6" cy="399.8" r="2.07"/><ellipse cx="247.6" cy="398.0" rx="2.90" ry="0.97" transform="rotate(-66 247.6 398.0)"/><ellipse cx="248.9" cy="399.3" rx="2.78" ry="0.97" transform="rotate(-32 248.9 399.3)"/><ellipse cx="249.5" cy="401.3" rx="2.93" ry="0.97" transform="rotate(5 249.5 401.3)"/><ellipse cx="248.6" cy="403.3" rx="2.97" ry="0.97" transform="rotate(46 248.6 403.3)"/><circle cx="253.4" cy="401.3" r="0.65"/><circle cx="251.2" cy="396.2" r="0.65"/></g>
<g fill="#25c93a"><ellipse cx="270.8" cy="385.7" rx="3.56" ry="2.90"/><circle cx="269.0" cy="387.0" r="1.98"/><circle cx="272.1" cy="384.5" r="2.11"/><ellipse cx="272.0" cy="382.7" rx="2.85" ry="0.99" transform="rotate(-67 272.0 382.7)"/><ellipse cx="273.7" cy="384.5" rx="2.86" ry="0.99" transform="rotate(-22 273.7 384.5)"/><ellipse cx="273.8" cy="386.4" rx="2.78" ry="0.99" transform="rotate(13 273.8 386.4)"/><ellipse cx="273.4" cy="388.0" rx="3.19" ry="0.99" transform="rotate(42 273.4 388.0)"/><circle cx="266.3" cy="387.7" r="0.66"/><circle cx="266.9" cy="389.6" r="0.66"/></g>
<g fill="#de55bd"><ellipse cx="301.2" cy="402.2" rx="3.50" ry="2.85"/><circle cx="299.5" cy="403.5" r="1.94"/><circle cx="302.5" cy="401.0" r="2.07"/><ellipse cx="302.4" cy="399.3" rx="2.77" ry="0.97" transform="rotate(-67 302.4 399.3)"/><ellipse cx="304.4" cy="401.2" rx="3.06" ry="0.97" transform="rotate(-17 304.4 401.2)"/><ellipse cx="304.3" cy="402.7" rx="2.83" ry="0.97" transform="rotate(10 304.3 402.7)"/><ellipse cx="303.3" cy="404.8" rx="3.02" ry="0.97" transform="rotate(51 303.3 404.8)"/><circle cx="297.1" cy="397.6" r="0.65"/><circle cx="304.9" cy="396.3" r="0.65"/></g>
<g fill="#25c93a"><ellipse cx="321.4" cy="388.2" rx="3.56" ry="2.90"/><circle cx="319.7" cy="389.5" r="1.98"/><circle cx="322.8" cy="387.0" r="2.11"/><ellipse cx="323.2" cy="385.2" rx="3.13" ry="0.99" transform="rotate(-59 323.2 385.2)"/><ellipse cx="324.6" cy="386.8" rx="3.14" ry="0.99" transform="rotate(-24 324.6 386.8)"/><ellipse cx="324.8" cy="389.2" rx="3.22" ry="0.99" transform="rotate(17 324.8 389.2)"/><ellipse cx="323.8" cy="390.8" rx="3.19" ry="0.99" transform="rotate(48 323.8 390.8)"/><circle cx="329.3" cy="388.3" r="0.66"/><circle cx="316.9" cy="384.8" r="0.66"/></g>
<g fill="#f6e71a"><ellipse cx="54.0" cy="385.5" rx="2.59" ry="2.11"/><circle cx="52.8" cy="386.4" r="1.44"/><circle cx="55.0" cy="384.6" r="1.54"/><ellipse cx="55.5" cy="383.4" rx="2.13" ry="0.72" transform="rotate(-55 55.5 383.4)"/><ellipse cx="56.7" cy="384.8" rx="2.32" ry="0.72" transform="rotate(-13 56.7 384.8)"/><ellipse cx="56.4" cy="386.4" rx="2.11" ry="0.72" transform="rotate(22 56.4 386.4)"/><ellipse cx="55.4" cy="387.7" rx="2.15" ry="0.72" transform="rotate(58 55.4 387.7)"/><circle cx="54.0" cy="381.1" r="0.48"/><circle cx="51.1" cy="388.5" r="0.48"/></g>
<g fill="#22cde6"><ellipse cx="77.8" cy="395.4" rx="2.27" ry="1.85"/><circle cx="76.8" cy="396.2" r="1.26"/><circle cx="78.7" cy="394.6" r="1.35"/><ellipse cx="78.5" cy="393.0" rx="2.01" ry="0.63" transform="rotate(-75 78.5 393.0)"/><ellipse cx="79.9" cy="394.2" rx="1.90" ry="0.63" transform="rotate(-29 79.9 394.2)"/><ellipse cx="80.1" cy="395.5" rx="1.78" ry="0.63" transform="rotate(4 80.1 395.5)"/><ellipse cx="79.5" cy="396.8" rx="1.77" ry="0.63" transform="rotate(40 79.5 396.8)"/><circle cx="74.8" cy="393.3" r="0.42"/><circle cx="82.3" cy="397.6" r="0.42"/></g>
<g fill="#f6e71a"><ellipse cx="106.1" cy="383.8" rx="2.59" ry="2.11"/><circle cx="104.8" cy="384.8" r="1.44"/><circle cx="107.0" cy="383.0" r="1.54"/><ellipse cx="107.0" cy="381.3" rx="2.31" ry="0.72" transform="rotate(-69 107.0 381.3)"/><ellipse cx="108.2" cy="382.6" rx="2.04" ry="0.72" transform="rotate(-29 108.2 382.6)"/><ellipse cx="108.8" cy="383.9" rx="2.34" ry="0.72" transform="rotate(2 108.8 383.9)"/><ellipse cx="108.0" cy="385.2" rx="1.97" ry="0.72" transform="rotate(34 108.0 385.2)"/><circle cx="102.5" cy="381.7" r="0.48"/><circle cx="111.1" cy="381.2" r="0.48"/></g>
<g fill="#22cde6"><ellipse cx="135.4" cy="398.8" rx="1.25" ry="1.02"/><circle cx="134.8" cy="399.2" r="0.69"/><circle cx="135.9" cy="398.3" r="0.74"/><ellipse cx="136.2" cy="397.4" rx="1.05" ry="0.35" transform="rotate(-61 136.2 397.4)"/><ellipse cx="136.8" cy="398.0" rx="1.08" ry="0.35" transform="rotate(-29 136.8 398.0)"/><ellipse cx="136.9" cy="399.0" rx="1.02" ry="0.35" transform="rotate(7 136.9 399.0)"/><ellipse cx="136.4" cy="399.9" rx="1.01" ry="0.35" transform="rotate(48 136.4 399.9)"/><circle cx="138.0" cy="397.9" r="0.23"/><circle cx="133.7" cy="398.4" r="0.23"/></g>
<g fill="#f6e71a"><ellipse cx="162.3" cy="381.7" rx="2.59" ry="2.11"/><circle cx="161.0" cy="382.7" r="1.44"/><circle cx="163.2" cy="380.8" r="1.54"/><ellipse cx="163.0" cy="379.2" rx="2.19" ry="0.72" transform="rotate(-74 163.0 379.2)"/><ellipse cx="164.5" cy="380.2" rx="2.33" ry="0.72" transform="rotate(-33 164.5 380.2)"/><ellipse cx="164.8" cy="382.2" rx="2.16" ry="0.72" transform="rotate(10 164.8 382.2)"/><ellipse cx="164.2" cy="383.4" rx="2.22" ry="0.72" transform="rotate(41 164.2 383.4)"/><circle cx="167.6" cy="381.4" r="0.48"/><circle cx="158.1" cy="380.6" r="0.48"/></g>
<g fill="#22cde6"><ellipse cx="187.2" cy="398.7" rx="2.27" ry="1.85"/><circle cx="186.1" cy="399.6" r="1.26"/><circle cx="188.0" cy="398.0" r="1.35"/><ellipse cx="187.6" cy="396.3" rx="2.08" ry="0.63" transform="rotate(-81 187.6 396.3)"/><ellipse cx="189.1" cy="397.4" rx="1.90" ry="0.63" transform="rotate(-36 189.1 397.4)"/><ellipse cx="189.6" cy="398.4" rx="2.05" ry="0.63" transform="rotate(-7 189.6 398.4)"/><ellipse cx="189.1" cy="400.3" rx="2.02" ry="0.63" transform="rotate(39 189.1 400.3)"/><circle cx="192.2" cy="398.2" r="0.42"/><circle cx="184.4" cy="400.3" r="0.42"/></g>
<g fill="#f6e71a"><ellipse cx="219.6" cy="383.8" rx="2.59" ry="2.11"/><circle cx="218.3" cy="384.8" r="1.44"/><circle cx="220.5" cy="383.0" r="1.54"/><ellipse cx="220.2" cy="381.4" rx="2.17" ry="0.72" transform="rotate(-75 220.2 381.4)"/><ellipse cx="221.4" cy="382.2" rx="2.03" ry="0.72" transform="rotate(-41 221.4 382.2)"/><ellipse cx="222.2" cy="384.0" rx="2.21" ry="0.72" transform="rotate(3 222.2 384.0)"/><ellipse cx="221.7" cy="385.5" rx="2.37" ry="0.72" transform="rotate(38 221.7 385.5)"/><circle cx="217.5" cy="380.4" r="0.48"/><circle cx="216.1" cy="386.2" r="0.48"/></g>
<g fill="#22cde6"><ellipse cx="250.3" cy="398.8" rx="1.25" ry="1.02"/><circle cx="249.7" cy="399.3" r="0.69"/><circle cx="250.8" cy="398.4" r="0.74"/><ellipse cx="250.8" cy="397.4" rx="0.94" ry="0.35" transform="rotate(-72 250.8 397.4)"/><ellipse cx="251.6" cy="397.8" rx="1.11" ry="0.35" transform="rotate(-39 251.6 397.8)"/><ellipse cx="251.9" cy="398.9" rx="1.08" ry="0.35" transform="rotate(3 251.9 398.9)"/><ellipse cx="251.6" cy="399.7" rx="1.04" ry="0.35" transform="rotate(36 251.6 399.7)"/><circle cx="248.7" cy="398.0" r="0.23"/><circle cx="249.3" cy="396.9" r="0.23"/></g>
<g fill="#f6e71a"><ellipse cx="277.6" cy="386.2" rx="2.59" ry="2.11"/><circle cx="276.4" cy="387.1" r="1.44"/><circle cx="278.6" cy="385.3" r="1.54"/><ellipse cx="279.1" cy="384.1" rx="2.13" ry="0.72" transform="rotate(-53 279.1 384.1)"/><ellipse cx="279.9" cy="385.3" rx="2.02" ry="0.72" transform="rotate(-22 279.9 385.3)"/><ellipse cx="279.8" cy="387.2" rx="2.00" ry="0.72" transform="rotate(25 279.8 387.2)"/><ellipse cx="279.0" cy="388.2" rx="2.03" ry="0.72" transform="rotate(55 279.0 388.2)"/><circle cx="273.4" cy="385.5" r="0.48"/><circle cx="274.6" cy="382.9" r="0.48"/></g>
<g fill="#22cde6"><ellipse cx="305.1" cy="398.9" rx="1.25" ry="1.02"/><circle cx="304.5" cy="399.3" r="0.69"/><circle cx="305.5" cy="398.4" r="0.74"/><ellipse cx="305.1" cy="397.3" rx="1.10" ry="0.35" transform="rotate(-88 305.1 397.3)"/><ellipse cx="306.2" cy="397.7" rx="1.09" ry="0.35" transform="rotate(-46 306.2 397.7)"/><ellipse cx="306.5" cy="398.7" rx="0.98" ry="0.35" transform="rotate(-7 306.5 398.7)"/><ellipse cx="306.3" cy="399.6" rx="0.96" ry="0.35" transform="rotate(30 306.3 399.6)"/><circle cx="307.3" cy="397.4" r="0.23"/><circle cx="304.1" cy="400.5" r="0.23"/></g>
</g>
<g clip-path="url(#cs7)">
<g fill="#25c93a"><ellipse cx="67.2" cy="438.4" rx="2.62" ry="2.13"/><circle cx="66.0" cy="439.4" r="1.46"/><circle cx="68.2" cy="437.6" r="1.55"/><ellipse cx="68.3" cy="436.0" rx="2.25" ry="0.73" transform="rotate(-67 68.3 436.0)"/><ellipse cx="69.7" cy="437.5" rx="2.28" ry="0.73" transform="rotate(-21 69.7 437.5)"/><ellipse cx="69.7" cy="439.1" rx="2.13" ry="0.73" transform="rotate(15 69.7 439.1)"/><ellipse cx="68.7" cy="440.2" rx="1.89" ry="0.73" transform="rotate(51 68.7 440.2)"/><circle cx="72.6" cy="436.2" r="0.48"/><circle cx="66.0" cy="443.1" r="0.48"/></g>
<g fill="#de55bd"><ellipse cx="52.7" cy="459.7" rx="2.83" ry="2.30"/><circle cx="51.3" cy="460.7" r="1.57"/><circle cx="53.7" cy="458.7" r="1.68"/><ellipse cx="54.4" cy="457.6" rx="2.29" ry="0.79" transform="rotate(-51 54.4 457.6)"/><ellipse cx="55.3" cy="459.5" rx="2.25" ry="0.79" transform="rotate(-4 55.3 459.5)"/><ellipse cx="54.8" cy="461.1" rx="2.13" ry="0.79" transform="rotate(34 54.8 461.1)"/><ellipse cx="53.8" cy="462.1" rx="2.35" ry="0.79" transform="rotate(65 53.8 462.1)"/><circle cx="54.4" cy="464.7" r="0.52"/><circle cx="57.1" cy="456.2" r="0.52"/></g>
<g fill="#de55bd"><ellipse cx="95.4" cy="457.6" rx="2.83" ry="2.30"/><circle cx="94.0" cy="458.6" r="1.57"/><circle cx="96.4" cy="456.6" r="1.68"/><ellipse cx="96.9" cy="455.6" rx="2.10" ry="0.79" transform="rotate(-52 96.9 455.6)"/><ellipse cx="97.8" cy="457.0" rx="2.10" ry="0.79" transform="rotate(-13 97.8 457.0)"/><ellipse cx="97.5" cy="459.0" rx="2.15" ry="0.79" transform="rotate(34 97.5 459.0)"/><ellipse cx="96.4" cy="459.9" rx="2.07" ry="0.79" transform="rotate(67 96.4 459.9)"/><circle cx="91.3" cy="456.7" r="0.52"/><circle cx="92.4" cy="460.4" r="0.52"/></g>
<g fill="#25c93a"><ellipse cx="124.5" cy="439.3" rx="2.62" ry="2.13"/><circle cx="123.3" cy="440.3" r="1.46"/><circle cx="125.5" cy="438.5" r="1.55"/><ellipse cx="125.6" cy="437.2" rx="2.02" ry="0.73" transform="rotate(-64 125.6 437.2)"/><ellipse cx="126.5" cy="438.0" rx="1.95" ry="0.73" transform="rotate(-33 126.5 438.0)"/><ellipse cx="126.9" cy="439.6" rx="1.97" ry="0.73" transform="rotate(5 126.9 439.6)"/><ellipse cx="126.5" cy="441.0" rx="2.15" ry="0.73" transform="rotate(40 126.5 441.0)"/><circle cx="122.9" cy="442.9" r="0.48"/><circle cx="124.1" cy="435.0" r="0.48"/></g>
<g fill="#de55bd"><ellipse cx="145.6" cy="463.0" rx="2.83" ry="2.30"/><circle cx="144.2" cy="464.0" r="1.57"/><circle cx="146.6" cy="462.1" r="1.68"/><ellipse cx="146.8" cy="460.9" rx="2.08" ry="0.79" transform="rotate(-59 146.8 460.9)"/><ellipse cx="148.1" cy="461.8" rx="2.40" ry="0.79" transform="rotate(-26 148.1 461.8)"/><ellipse cx="148.0" cy="463.7" rx="2.09" ry="0.79" transform="rotate(17 148.0 463.7)"/><ellipse cx="147.4" cy="465.1" rx="2.35" ry="0.79" transform="rotate(49 147.4 465.1)"/><circle cx="142.4" cy="466.8" r="0.52"/><circle cx="147.9" cy="468.3" r="0.52"/></g>
<g fill="#25c93a"><ellipse cx="165.4" cy="437.8" rx="2.62" ry="2.13"/><circle cx="164.2" cy="438.8" r="1.46"/><circle cx="166.4" cy="436.9" r="1.55"/><ellipse cx="166.6" cy="435.6" rx="2.06" ry="0.73" transform="rotate(-61 166.6 435.6)"/><ellipse cx="167.8" cy="436.8" rx="2.17" ry="0.73" transform="rotate(-24 167.8 436.8)"/><ellipse cx="168.0" cy="438.5" rx="2.25" ry="0.73" transform="rotate(16 168.0 438.5)"/><ellipse cx="166.7" cy="439.9" rx="2.02" ry="0.73" transform="rotate(59 166.7 439.9)"/><circle cx="166.3" cy="442.7" r="0.48"/><circle cx="167.4" cy="442.8" r="0.48"/></g>
<g fill="#de55bd"><ellipse cx="178.1" cy="464.5" rx="2.83" ry="2.30"/><circle cx="176.7" cy="465.5" r="1.57"/><circle cx="179.1" cy="463.5" r="1.68"/><ellipse cx="179.1" cy="462.0" rx="2.27" ry="0.79" transform="rotate(-68 179.1 462.0)"/><ellipse cx="180.4" cy="463.0" rx="2.37" ry="0.79" transform="rotate(-33 180.4 463.0)"/><ellipse cx="180.8" cy="464.8" rx="2.32" ry="0.79" transform="rotate(7 180.8 464.8)"/><ellipse cx="179.8" cy="466.3" rx="2.16" ry="0.79" transform="rotate(47 179.8 466.3)"/><circle cx="175.3" cy="467.3" r="0.52"/><circle cx="181.3" cy="469.2" r="0.52"/></g>
<g fill="#25c93a"><ellipse cx="218.2" cy="440.1" rx="2.62" ry="2.13"/><circle cx="217.0" cy="441.0" r="1.46"/><circle cx="219.2" cy="439.2" r="1.55"/><ellipse cx="219.4" cy="438.0" rx="1.91" ry="0.73" transform="rotate(-60 219.4 438.0)"/><ellipse cx="220.5" cy="439.1" rx="2.02" ry="0.73" transform="rotate(-23 220.5 439.1)"/><ellipse cx="220.6" cy="440.7" rx="1.99" ry="0.73" transform="rotate(14 220.6 440.7)"/><ellipse cx="219.9" cy="441.8" rx="2.00" ry="0.73" transform="rotate(46 219.9 441.8)"/><circle cx="219.7" cy="444.3" r="0.48"/><circle cx="218.0" cy="435.6" r="0.48"/></g>
<g fill="#de55bd"><ellipse cx="239.3" cy="459.8" rx="2.83" ry="2.30"/><circle cx="237.9" cy="460.9" r="1.57"/><circle cx="240.3" cy="458.9" r="1.68"/><ellipse cx="240.9" cy="457.6" rx="2.37" ry="0.79" transform="rotate(-54 240.9 457.6)"/><ellipse cx="241.9" cy="459.0" rx="2.41" ry="0.79" transform="rotate(-17 241.9 459.0)"/><ellipse cx="241.8" cy="460.3" rx="2.14" ry="0.79" transform="rotate(11 241.8 460.3)"/><ellipse cx="241.1" cy="461.9" rx="2.33" ry="0.79" transform="rotate(48 241.1 461.9)"/><circle cx="237.5" cy="455.5" r="0.52"/><circle cx="235.6" cy="462.6" r="0.52"/></g>
<g fill="#25c93a"><ellipse cx="267.6" cy="439.1" rx="2.62" ry="2.13"/><circle cx="266.4" cy="440.1" r="1.46"/><circle cx="268.6" cy="438.2" r="1.55"/><ellipse cx="269.1" cy="437.0" rx="2.23" ry="0.73" transform="rotate(-55 269.1 437.0)"/><ellipse cx="270.1" cy="438.4" rx="2.14" ry="0.73" transform="rotate(-15 270.1 438.4)"/><ellipse cx="269.8" cy="439.9" rx="1.92" ry="0.73" transform="rotate(20 269.8 439.9)"/><ellipse cx="268.6" cy="441.5" rx="2.18" ry="0.73" transform="rotate(69 268.6 441.5)"/><circle cx="267.4" cy="435.0" r="0.48"/><circle cx="272.7" cy="440.3" r="0.48"/></g>
<g fill="#de55bd"><ellipse cx="279.0" cy="463.0" rx="2.83" ry="2.30"/><circle cx="277.6" cy="464.1" r="1.57"/><circle cx="280.0" cy="462.1" r="1.68"/><ellipse cx="279.9" cy="460.6" rx="2.19" ry="0.79" transform="rotate(-69 279.9 460.6)"/><ellipse cx="281.1" cy="461.6" rx="2.16" ry="0.79" transform="rotate(-34 281.1 461.6)"/><ellipse cx="281.4" cy="463.6" rx="2.10" ry="0.79" transform="rotate(12 281.4 463.6)"/><ellipse cx="280.6" cy="465.2" rx="2.28" ry="0.79" transform="rotate(53 280.6 465.2)"/><circle cx="278.8" cy="458.1" r="0.52"/><circle cx="274.9" cy="465.0" r="0.52"/></g>
<g fill="#25c93a"><ellipse cx="308.0" cy="439.3" rx="2.62" ry="2.13"/><circle cx="306.8" cy="440.2" r="1.46"/><circle cx="309.0" cy="438.4" r="1.55"/><ellipse cx="309.0" cy="436.8" rx="2.22" ry="0.73" transform="rotate(-68 309.0 436.8)"/><ellipse cx="310.3" cy="438.4" rx="1.99" ry="0.73" transform="rotate(-20 310.3 438.4)"/><ellipse cx="310.6" cy="439.6" rx="2.23" ry="0.73" transform="rotate(8 310.6 439.6)"/><ellipse cx="309.4" cy="441.1" rx="1.89" ry="0.73" transform="rotate(54 309.4 441.1)"/><circle cx="309.0" cy="443.6" r="0.48"/><circle cx="309.9" cy="434.9" r="0.48"/></g>
<g fill="#de55bd"><ellipse cx="319.4" cy="460.1" rx="2.83" ry="2.30"/><circle cx="318.0" cy="461.2" r="1.57"/><circle cx="320.4" cy="459.2" r="1.68"/><ellipse cx="321.2" cy="458.5" rx="2.06" ry="0.79" transform="rotate(-42 321.2 458.5)"/><ellipse cx="322.0" cy="459.9" rx="2.20" ry="0.79" transform="rotate(-5 322.0 459.9)"/><ellipse cx="321.7" cy="461.7" rx="2.40" ry="0.79" transform="rotate(34 321.7 461.7)"/><ellipse cx="320.4" cy="462.4" rx="2.06" ry="0.79" transform="rotate(66 320.4 462.4)"/><circle cx="325.0" cy="458.6" r="0.52"/><circle cx="325.0" cy="458.0" r="0.52"/></g>
<g fill="#25c93a"><ellipse cx="323.1" cy="439.4" rx="1.44" ry="1.17"/><circle cx="322.4" cy="440.0" r="0.80"/><circle cx="323.6" cy="439.0" r="0.85"/><ellipse cx="324.2" cy="438.3" rx="1.17" ry="0.40" transform="rotate(-46 324.2 438.3)"/><ellipse cx="324.6" cy="439.1" rx="1.04" ry="0.40" transform="rotate(-13 324.6 439.1)"/><ellipse cx="324.5" cy="440.2" rx="1.13" ry="0.40" transform="rotate(29 324.5 440.2)"/><ellipse cx="323.8" cy="441.0" rx="1.24" ry="0.40" transform="rotate(64 323.8 441.0)"/><circle cx="325.4" cy="441.5" r="0.27"/><circle cx="326.1" cy="440.2" r="0.27"/></g>
<g fill="#f6e71a"><ellipse cx="72.4" cy="439.9" rx="2.62" ry="2.13"/><circle cx="71.2" cy="440.9" r="1.46"/><circle cx="73.4" cy="439.0" r="1.55"/><ellipse cx="74.0" cy="437.9" rx="2.10" ry="0.73" transform="rotate(-52 74.0 437.9)"/><ellipse cx="75.0" cy="439.7" rx="2.14" ry="0.73" transform="rotate(-4 75.0 439.7)"/><ellipse cx="74.5" cy="441.0" rx="1.97" ry="0.73" transform="rotate(28 74.5 441.0)"/><ellipse cx="73.7" cy="442.0" rx="2.02" ry="0.73" transform="rotate(60 73.7 442.0)"/><circle cx="69.4" cy="442.4" r="0.48"/><circle cx="71.6" cy="444.1" r="0.48"/></g>
<g fill="#f6e71a"><ellipse cx="52.7" cy="447.0" rx="2.62" ry="2.13"/><circle cx="51.5" cy="448.0" r="1.46"/><circle cx="53.7" cy="446.1" r="1.55"/><ellipse cx="54.3" cy="445.2" rx="1.97" ry="0.73" transform="rotate(-49 54.3 445.2)"/><ellipse cx="55.1" cy="446.3" rx="2.09" ry="0.73" transform="rotate(-17 55.1 446.3)"/><ellipse cx="55.2" cy="448.1" rx="2.27" ry="0.73" transform="rotate(24 55.2 448.1)"/><ellipse cx="53.9" cy="449.1" rx="2.00" ry="0.73" transform="rotate(61 53.9 449.1)"/><circle cx="56.8" cy="444.2" r="0.48"/><circle cx="49.3" cy="445.3" r="0.48"/></g>
<g fill="#22cde6"><ellipse cx="58.5" cy="458.3" rx="2.36" ry="1.92"/><circle cx="57.4" cy="459.2" r="1.31"/><circle cx="59.4" cy="457.5" r="1.40"/><ellipse cx="60.1" cy="456.5" rx="1.97" ry="0.65" transform="rotate(-48 60.1 456.5)"/><ellipse cx="60.8" cy="457.7" rx="1.94" ry="0.65" transform="rotate(-15 60.8 457.7)"/><ellipse cx="60.5" cy="459.4" rx="1.86" ry="0.65" transform="rotate(29 60.5 459.4)"/><ellipse cx="59.3" cy="460.6" rx="2.00" ry="0.65" transform="rotate(70 59.3 460.6)"/><circle cx="62.3" cy="461.1" r="0.44"/><circle cx="56.6" cy="461.5" r="0.44"/></g>
<g fill="#22cde6"><ellipse cx="102.1" cy="451.2" rx="2.36" ry="1.92"/><circle cx="101.0" cy="452.0" r="1.31"/><circle cx="103.0" cy="450.4" r="1.40"/><ellipse cx="102.8" cy="449.1" rx="1.76" ry="0.65" transform="rotate(-73 102.8 449.1)"/><ellipse cx="104.1" cy="450.0" rx="1.85" ry="0.65" transform="rotate(-29 104.1 450.0)"/><ellipse cx="104.4" cy="451.2" rx="1.81" ry="0.65" transform="rotate(1 104.4 451.2)"/><ellipse cx="103.7" cy="452.7" rx="1.82" ry="0.65" transform="rotate(44 103.7 452.7)"/><circle cx="104.7" cy="454.4" r="0.44"/><circle cx="107.5" cy="451.3" r="0.44"/></g>
<g fill="#f6e71a"><ellipse cx="131.1" cy="443.0" rx="2.62" ry="2.13"/><circle cx="129.9" cy="444.0" r="1.46"/><circle cx="132.1" cy="442.1" r="1.55"/><ellipse cx="132.6" cy="440.9" rx="2.17" ry="0.73" transform="rotate(-56 132.6 440.9)"/><ellipse cx="133.6" cy="442.8" rx="2.11" ry="0.73" transform="rotate(-5 133.6 442.8)"/><ellipse cx="133.5" cy="443.9" rx="2.08" ry="0.73" transform="rotate(21 133.5 443.9)"/><ellipse cx="132.2" cy="445.1" rx="1.95" ry="0.73" transform="rotate(64 132.2 445.1)"/><circle cx="127.8" cy="442.0" r="0.48"/><circle cx="136.2" cy="440.7" r="0.48"/></g>
<g fill="#22cde6"><ellipse cx="158.1" cy="458.4" rx="2.36" ry="1.92"/><circle cx="157.0" cy="459.2" r="1.31"/><circle cx="159.0" cy="457.6" r="1.40"/><ellipse cx="159.7" cy="456.6" rx="1.93" ry="0.65" transform="rotate(-48 159.7 456.6)"/><ellipse cx="160.2" cy="457.6" rx="1.78" ry="0.65" transform="rotate(-19 160.2 457.6)"/><ellipse cx="160.1" cy="459.0" rx="1.69" ry="0.65" transform="rotate(18 160.1 459.0)"/><ellipse cx="159.1" cy="460.5" rx="2.00" ry="0.65" transform="rotate(65 159.1 460.5)"/><circle cx="157.7" cy="462.2" r="0.44"/><circle cx="155.8" cy="454.9" r="0.44"/></g>
<g fill="#f6e71a"><ellipse cx="185.8" cy="446.1" rx="2.62" ry="2.13"/><circle cx="184.6" cy="447.1" r="1.46"/><circle cx="186.8" cy="445.3" r="1.55"/><ellipse cx="187.5" cy="444.2" rx="2.20" ry="0.73" transform="rotate(-50 187.5 444.2)"/><ellipse cx="188.4" cy="446.0" rx="2.18" ry="0.73" transform="rotate(-2 188.4 446.0)"/><ellipse cx="187.9" cy="447.3" rx="1.95" ry="0.73" transform="rotate(29 187.9 447.3)"/><ellipse cx="186.5" cy="448.5" rx="2.00" ry="0.73" transform="rotate(74 186.5 448.5)"/><circle cx="183.3" cy="449.8" r="0.48"/><circle cx="183.1" cy="450.0" r="0.48"/></g>
<g fill="#f6e71a"><ellipse cx="211.6" cy="441.1" rx="2.62" ry="2.13"/><circle cx="210.4" cy="442.1" r="1.46"/><circle cx="212.6" cy="440.2" r="1.55"/><ellipse cx="212.4" cy="438.7" rx="2.11" ry="0.73" transform="rotate(-71 212.4 438.7)"/><ellipse cx="214.0" cy="440.0" rx="2.22" ry="0.73" transform="rotate(-25 214.0 440.0)"/><ellipse cx="214.2" cy="441.8" rx="2.25" ry="0.73" transform="rotate(14 214.2 441.8)"/><ellipse cx="213.0" cy="443.2" rx="2.08" ry="0.73" transform="rotate(56 213.0 443.2)"/><circle cx="208.0" cy="441.0" r="0.48"/><circle cx="210.9" cy="445.6" r="0.48"/></g>
<g fill="#f6e71a"><ellipse cx="227.5" cy="440.7" rx="2.62" ry="2.13"/><circle cx="226.3" cy="441.6" r="1.46"/><circle cx="228.5" cy="439.8" r="1.55"/><ellipse cx="228.5" cy="438.5" rx="1.94" ry="0.73" transform="rotate(-67 228.5 438.5)"/><ellipse cx="229.8" cy="439.2" rx="2.28" ry="0.73" transform="rotate(-32 229.8 439.2)"/><ellipse cx="229.9" cy="440.7" rx="1.88" ry="0.73" transform="rotate(1 229.9 440.7)"/><ellipse cx="229.2" cy="442.3" rx="1.95" ry="0.73" transform="rotate(44 229.2 442.3)"/><circle cx="227.6" cy="436.3" r="0.48"/><circle cx="231.0" cy="436.2" r="0.48"/></g>
<g fill="#f6e71a"><ellipse cx="223.0" cy="445.7" rx="2.62" ry="2.13"/><circle cx="221.8" cy="446.7" r="1.46"/><circle cx="224.0" cy="444.8" r="1.55"/><ellipse cx="224.6" cy="443.8" rx="1.99" ry="0.73" transform="rotate(-50 224.6 443.8)"/><ellipse cx="225.5" cy="445.3" rx="2.09" ry="0.73" transform="rotate(-9 225.5 445.3)"/><ellipse cx="225.2" cy="446.8" rx="2.01" ry="0.73" transform="rotate(26 225.2 446.8)"/><ellipse cx="224.1" cy="448.0" rx="2.15" ry="0.73" transform="rotate(65 224.1 448.0)"/><circle cx="226.2" cy="441.2" r="0.48"/><circle cx="226.1" cy="449.7" r="0.48"/></g>
<g fill="#22cde6"><ellipse cx="206.4" cy="458.4" rx="2.36" ry="1.92"/><circle cx="205.3" cy="459.3" r="1.31"/><circle cx="207.3" cy="457.6" r="1.40"/><ellipse cx="207.6" cy="456.5" rx="1.81" ry="0.65" transform="rotate(-58 207.6 456.5)"/><ellipse cx="208.4" cy="457.5" rx="1.71" ry="0.65" transform="rotate(-25 208.4 457.5)"/><ellipse cx="208.6" cy="459.0" rx="1.86" ry="0.65" transform="rotate(15 208.6 459.0)"/><ellipse cx="207.5" cy="460.6" rx="2.03" ry="0.65" transform="rotate(62 207.5 460.6)"/><circle cx="210.2" cy="454.9" r="0.44"/><circle cx="211.4" cy="457.3" r="0.44"/></g>
<g fill="#22cde6"><ellipse cx="228.1" cy="453.6" rx="2.36" ry="1.92"/><circle cx="227.0" cy="454.5" r="1.31"/><circle cx="229.0" cy="452.8" r="1.40"/><ellipse cx="229.5" cy="451.7" rx="1.94" ry="0.65" transform="rotate(-54 229.5 451.7)"/><ellipse cx="230.3" cy="453.3" rx="1.79" ry="0.65" transform="rotate(-9 230.3 453.3)"/><ellipse cx="230.3" cy="454.8" rx="2.05" ry="0.65" transform="rotate(29 230.3 454.8)"/><ellipse cx="229.1" cy="455.7" rx="1.93" ry="0.65" transform="rotate(66 229.1 455.7)"/><circle cx="227.5" cy="457.6" r="0.44"/><circle cx="231.7" cy="451.1" r="0.44"/></g>
<g fill="#22cde6"><ellipse cx="247.9" cy="455.1" rx="2.36" ry="1.92"/><circle cx="246.8" cy="456.0" r="1.31"/><circle cx="248.8" cy="454.3" r="1.40"/><ellipse cx="248.9" cy="453.1" rx="1.85" ry="0.65" transform="rotate(-64 248.9 453.1)"/><ellipse cx="249.9" cy="453.8" rx="1.93" ry="0.65" transform="rotate(-34 249.9 453.8)"/><ellipse cx="250.2" cy="455.4" rx="1.90" ry="0.65" transform="rotate(8 250.2 455.4)"/><ellipse cx="249.5" cy="456.8" rx="1.88" ry="0.65" transform="rotate(47 249.5 456.8)"/><circle cx="244.8" cy="453.3" r="0.44"/><circle cx="251.6" cy="457.6" r="0.44"/></g>
<g fill="#f6e71a"><ellipse cx="276.3" cy="444.3" rx="2.62" ry="2.13"/><circle cx="275.1" cy="445.3" r="1.46"/><circle cx="277.3" cy="443.5" r="1.55"/><ellipse cx="278.0" cy="442.7" rx="1.92" ry="0.73" transform="rotate(-45 278.0 442.7)"/><ellipse cx="278.7" cy="444.2" rx="1.98" ry="0.73" transform="rotate(-3 278.7 444.2)"/><ellipse cx="278.6" cy="445.4" rx="2.09" ry="0.73" transform="rotate(25 278.6 445.4)"/><ellipse cx="277.4" cy="446.6" rx="2.08" ry="0.73" transform="rotate(65 277.4 446.6)"/><circle cx="272.9" cy="443.0" r="0.48"/><circle cx="273.2" cy="442.6" r="0.48"/></g>
<g fill="#22cde6"><ellipse cx="292.3" cy="457.7" rx="2.36" ry="1.92"/><circle cx="291.2" cy="458.6" r="1.31"/><circle cx="293.2" cy="456.9" r="1.40"/><ellipse cx="293.5" cy="455.9" rx="1.71" ry="0.65" transform="rotate(-56 293.5 455.9)"/><ellipse cx="294.3" cy="457.0" rx="1.71" ry="0.65" transform="rotate(-20 294.3 457.0)"/><ellipse cx="294.6" cy="458.5" rx="2.01" ry="0.65" transform="rotate(19 294.6 458.5)"/><ellipse cx="293.5" cy="459.7" rx="1.96" ry="0.65" transform="rotate(58 293.5 459.7)"/><circle cx="293.2" cy="453.8" r="0.44"/><circle cx="297.5" cy="457.4" r="0.44"/></g>
<g fill="#f6e71a"><ellipse cx="315.2" cy="448.1" rx="2.62" ry="2.13"/><circle cx="314.0" cy="449.0" r="1.46"/><circle cx="316.2" cy="447.2" r="1.55"/><ellipse cx="316.3" cy="445.8" rx="2.03" ry="0.73" transform="rotate(-64 316.3 445.8)"/><ellipse cx="317.4" cy="446.5" rx="2.28" ry="0.73" transform="rotate(-35 317.4 446.5)"/><ellipse cx="317.8" cy="448.4" rx="2.20" ry="0.73" transform="rotate(9 317.8 448.4)"/><ellipse cx="317.2" cy="449.8" rx="2.20" ry="0.73" transform="rotate(41 317.2 449.8)"/><circle cx="320.2" cy="449.5" r="0.48"/><circle cx="313.0" cy="451.0" r="0.48"/></g>
</g>
<g clip-path="url(#cs8)">
<g fill="#de55bd"><circle cx="51.2" cy="519.3" r="0.97"/><circle cx="50.3" cy="519.8" r="0.77"/><circle cx="53.1" cy="519.0" r="0.67"/><circle cx="52.5" cy="521.0" r="0.65"/><circle cx="49.7" cy="520.6" r="0.71"/><circle cx="49.5" cy="519.0" r="0.67"/><circle cx="49.8" cy="517.7" r="0.66"/><circle cx="52.4" cy="518.3" r="0.59"/></g>
<g fill="#25c93a"><ellipse cx="75.6" cy="497.3" rx="2.70" ry="2.20"/><circle cx="74.3" cy="498.3" r="1.50"/><circle cx="76.6" cy="496.4" r="1.60"/><ellipse cx="77.5" cy="495.5" rx="2.19" ry="0.75" transform="rotate(-44 77.5 495.5)"/><ellipse cx="78.0" cy="496.5" rx="2.14" ry="0.75" transform="rotate(-19 78.0 496.5)"/><ellipse cx="78.0" cy="498.2" rx="2.11" ry="0.75" transform="rotate(20 78.0 498.2)"/><ellipse cx="76.5" cy="499.5" rx="1.92" ry="0.75" transform="rotate(68 76.5 499.5)"/><circle cx="80.9" cy="495.1" r="0.50"/><circle cx="76.3" cy="502.0" r="0.50"/></g>
<g fill="#de55bd"><circle cx="102.8" cy="520.1" r="1.76"/><circle cx="101.1" cy="520.9" r="1.40"/><circle cx="106.7" cy="520.7" r="0.96"/><circle cx="105.1" cy="521.8" r="1.25"/><circle cx="101.5" cy="523.1" r="1.03"/><circle cx="99.2" cy="519.7" r="0.97"/><circle cx="101.7" cy="517.1" r="1.20"/><circle cx="105.9" cy="517.3" r="0.92"/></g>
<g fill="#25c93a"><ellipse cx="131.1" cy="499.1" rx="2.70" ry="2.20"/><circle cx="129.8" cy="500.1" r="1.50"/><circle cx="132.1" cy="498.2" r="1.60"/><ellipse cx="132.1" cy="496.8" rx="2.09" ry="0.75" transform="rotate(-67 132.1 496.8)"/><ellipse cx="133.6" cy="498.2" rx="2.22" ry="0.75" transform="rotate(-18 133.6 498.2)"/><ellipse cx="133.5" cy="499.4" rx="1.95" ry="0.75" transform="rotate(8 133.5 499.4)"/><ellipse cx="132.5" cy="501.2" rx="2.17" ry="0.75" transform="rotate(57 132.5 501.2)"/><circle cx="128.1" cy="502.1" r="0.50"/><circle cx="134.8" cy="503.4" r="0.50"/></g>
<g fill="#de55bd"><circle cx="157.0" cy="521.1" r="1.76"/><circle cx="155.3" cy="521.9" r="1.40"/><circle cx="161.0" cy="521.8" r="0.94"/><circle cx="159.0" cy="523.3" r="1.29"/><circle cx="155.3" cy="523.1" r="0.98"/><circle cx="153.2" cy="521.3" r="1.16"/><circle cx="155.0" cy="518.7" r="0.92"/><circle cx="159.0" cy="518.7" r="0.92"/></g>
<g fill="#25c93a"><ellipse cx="187.2" cy="499.7" rx="2.70" ry="2.20"/><circle cx="185.9" cy="500.7" r="1.50"/><circle cx="188.2" cy="498.8" r="1.60"/><ellipse cx="188.6" cy="497.9" rx="1.89" ry="0.75" transform="rotate(-52 188.6 497.9)"/><ellipse cx="189.5" cy="498.6" rx="2.17" ry="0.75" transform="rotate(-25 189.5 498.6)"/><ellipse cx="189.5" cy="500.3" rx="1.99" ry="0.75" transform="rotate(15 189.5 500.3)"/><ellipse cx="188.5" cy="501.7" rx="1.99" ry="0.75" transform="rotate(56 188.5 501.7)"/><circle cx="183.5" cy="497.6" r="0.50"/><circle cx="193.2" cy="498.2" r="0.50"/></g>
<g fill="#de55bd"><circle cx="215.6" cy="520.6" r="1.76"/><circle cx="213.9" cy="521.4" r="1.40"/><circle cx="220.0" cy="520.7" r="1.28"/><circle cx="217.0" cy="523.7" r="1.18"/><circle cx="214.1" cy="523.1" r="1.25"/><circle cx="211.1" cy="519.7" r="1.20"/><circle cx="213.0" cy="517.8" r="1.22"/><circle cx="217.7" cy="517.8" r="1.06"/></g>
<g fill="#25c93a"><ellipse cx="242.8" cy="497.4" rx="2.70" ry="2.20"/><circle cx="241.5" cy="498.4" r="1.50"/><circle cx="243.8" cy="496.5" r="1.60"/><ellipse cx="244.1" cy="495.4" rx="1.90" ry="0.75" transform="rotate(-57 244.1 495.4)"/><ellipse cx="245.1" cy="496.6" rx="2.01" ry="0.75" transform="rotate(-20 245.1 496.6)"/><ellipse cx="245.0" cy="498.5" rx="2.08" ry="0.75" transform="rotate(27 245.0 498.5)"/><ellipse cx="244.1" cy="499.4" rx="1.98" ry="0.75" transform="rotate(57 244.1 499.4)"/><circle cx="244.1" cy="502.1" r="0.50"/><circle cx="246.5" cy="500.7" r="0.50"/></g>
<g fill="#de55bd"><circle cx="267.9" cy="522.7" r="1.76"/><circle cx="266.2" cy="523.5" r="1.40"/><circle cx="271.7" cy="522.6" r="1.15"/><circle cx="269.8" cy="524.8" r="0.94"/><circle cx="266.5" cy="525.3" r="1.22"/><circle cx="263.2" cy="522.6" r="1.06"/><circle cx="266.9" cy="519.6" r="0.95"/><circle cx="269.3" cy="519.7" r="1.33"/></g>
<g fill="#25c93a"><ellipse cx="293.5" cy="496.4" rx="2.70" ry="2.20"/><circle cx="292.2" cy="497.4" r="1.50"/><circle cx="294.5" cy="495.5" r="1.60"/><ellipse cx="294.8" cy="494.3" rx="2.06" ry="0.75" transform="rotate(-58 294.8 494.3)"/><ellipse cx="295.7" cy="495.6" rx="1.90" ry="0.75" transform="rotate(-18 295.7 495.6)"/><ellipse cx="296.1" cy="497.0" rx="2.27" ry="0.75" transform="rotate(15 296.1 497.0)"/><ellipse cx="295.0" cy="498.2" rx="1.98" ry="0.75" transform="rotate(50 295.0 498.2)"/><circle cx="298.8" cy="497.0" r="0.50"/><circle cx="293.7" cy="501.4" r="0.50"/></g>
<g fill="#de55bd"><circle cx="310.1" cy="523.3" r="1.76"/><circle cx="308.4" cy="524.1" r="1.40"/><circle cx="313.4" cy="523.1" r="1.17"/><circle cx="311.3" cy="526.5" r="1.00"/><circle cx="307.2" cy="526.3" r="1.17"/><circle cx="305.8" cy="524.2" r="1.28"/><circle cx="308.3" cy="521.2" r="0.99"/><circle cx="312.5" cy="520.2" r="1.18"/></g>
<g fill="#25c93a"><ellipse cx="323.1" cy="496.7" rx="1.49" ry="1.21"/><circle cx="322.4" cy="497.3" r="0.83"/><circle cx="323.6" cy="496.2" r="0.88"/><ellipse cx="324.1" cy="495.5" rx="1.11" ry="0.41" transform="rotate(-49 324.1 495.5)"/><ellipse cx="324.7" cy="496.6" rx="1.19" ry="0.41" transform="rotate(-4 324.7 496.6)"/><ellipse cx="324.5" cy="497.5" rx="1.19" ry="0.41" transform="rotate(30 324.5 497.5)"/><ellipse cx="323.7" cy="498.1" rx="1.04" ry="0.41" transform="rotate(67 323.7 498.1)"/><circle cx="321.4" cy="498.1" r="0.28"/><circle cx="321.7" cy="494.9" r="0.28"/></g>
<g fill="#22cde6"><ellipse cx="50.8" cy="514.0" rx="2.43" ry="1.98"/><circle cx="49.6" cy="514.9" r="1.35"/><circle cx="51.7" cy="513.2" r="1.44"/><ellipse cx="52.0" cy="512.2" rx="1.78" ry="0.68" transform="rotate(-56 52.0 512.2)"/><ellipse cx="52.8" cy="513.3" rx="1.69" ry="0.68" transform="rotate(-20 52.8 513.3)"/><ellipse cx="52.9" cy="515.0" rx="1.91" ry="0.68" transform="rotate(25 52.9 515.0)"/><ellipse cx="51.7" cy="515.9" rx="1.71" ry="0.68" transform="rotate(64 51.7 515.9)"/><circle cx="48.0" cy="511.0" r="0.45"/><circle cx="49.6" cy="517.6" r="0.45"/></g>
<g fill="#f6e71a"><ellipse cx="77.0" cy="502.8" rx="2.43" ry="1.98"/><circle cx="75.8" cy="503.7" r="1.35"/><circle cx="77.9" cy="502.0" r="1.44"/><ellipse cx="77.7" cy="500.5" rx="1.99" ry="0.68" transform="rotate(-72 77.7 500.5)"/><ellipse cx="79.0" cy="501.4" rx="2.01" ry="0.68" transform="rotate(-35 79.0 501.4)"/><ellipse cx="79.3" cy="503.2" rx="1.90" ry="0.68" transform="rotate(8 79.3 503.2)"/><ellipse cx="78.5" cy="504.6" rx="1.90" ry="0.68" transform="rotate(49 78.5 504.6)"/><circle cx="75.2" cy="498.9" r="0.45"/><circle cx="75.5" cy="506.7" r="0.45"/></g>
<g fill="#22cde6"><ellipse cx="106.1" cy="514.1" rx="2.43" ry="1.98"/><circle cx="104.9" cy="515.0" r="1.35"/><circle cx="107.0" cy="513.3" r="1.44"/><ellipse cx="107.2" cy="512.0" rx="1.99" ry="0.68" transform="rotate(-61 107.2 512.0)"/><ellipse cx="108.2" cy="513.2" rx="1.81" ry="0.68" transform="rotate(-22 108.2 513.2)"/><ellipse cx="108.5" cy="514.8" rx="2.07" ry="0.68" transform="rotate(16 108.5 514.8)"/><ellipse cx="107.5" cy="515.8" rx="1.79" ry="0.68" transform="rotate(50 107.5 515.8)"/><circle cx="102.0" cy="513.3" r="0.45"/><circle cx="109.5" cy="516.9" r="0.45"/></g>
<g fill="#f6e71a"><ellipse cx="137.3" cy="499.5" rx="2.43" ry="1.98"/><circle cx="136.1" cy="500.4" r="1.35"/><circle cx="138.2" cy="498.7" r="1.44"/><ellipse cx="138.6" cy="497.5" rx="1.99" ry="0.68" transform="rotate(-56 138.6 497.5)"/><ellipse cx="139.6" cy="498.6" rx="2.07" ry="0.68" transform="rotate(-22 139.6 498.6)"/><ellipse cx="139.6" cy="500.1" rx="1.98" ry="0.68" transform="rotate(15 139.6 500.1)"/><ellipse cx="138.6" cy="501.2" rx="1.69" ry="0.68" transform="rotate(51 138.6 501.2)"/><circle cx="140.7" cy="502.5" r="0.45"/><circle cx="133.5" cy="499.5" r="0.45"/></g>
<g fill="#22cde6"><ellipse cx="163.4" cy="516.8" rx="2.43" ry="1.98"/><circle cx="162.2" cy="517.7" r="1.35"/><circle cx="164.3" cy="516.0" r="1.44"/><ellipse cx="164.5" cy="514.8" rx="1.83" ry="0.68" transform="rotate(-60 164.5 514.8)"/><ellipse cx="165.2" cy="515.6" rx="1.75" ry="0.68" transform="rotate(-33 165.2 515.6)"/><ellipse cx="165.8" cy="517.4" rx="2.05" ry="0.68" transform="rotate(13 165.8 517.4)"/><ellipse cx="164.9" cy="518.3" rx="1.69" ry="0.68" transform="rotate(44 164.9 518.3)"/><circle cx="164.8" cy="512.6" r="0.45"/><circle cx="168.5" cy="516.2" r="0.45"/></g>
<g fill="#f6e71a"><ellipse cx="193.8" cy="502.7" rx="2.43" ry="1.98"/><circle cx="192.6" cy="503.6" r="1.35"/><circle cx="194.7" cy="501.8" r="1.44"/><ellipse cx="195.2" cy="500.7" rx="2.00" ry="0.68" transform="rotate(-56 195.2 500.7)"/><ellipse cx="195.9" cy="502.0" rx="1.81" ry="0.68" transform="rotate(-16 195.9 502.0)"/><ellipse cx="195.7" cy="503.7" rx="1.73" ry="0.68" transform="rotate(29 195.7 503.7)"/><ellipse cx="194.7" cy="504.6" rx="1.71" ry="0.68" transform="rotate(64 194.7 504.6)"/><circle cx="191.9" cy="499.3" r="0.45"/><circle cx="197.1" cy="499.7" r="0.45"/></g>
<g fill="#22cde6"><ellipse cx="222.3" cy="516.1" rx="2.43" ry="1.98"/><circle cx="221.1" cy="517.0" r="1.35"/><circle cx="223.2" cy="515.3" r="1.44"/><ellipse cx="223.6" cy="514.0" rx="2.05" ry="0.68" transform="rotate(-57 223.6 514.0)"/><ellipse cx="224.6" cy="515.6" rx="1.93" ry="0.68" transform="rotate(-11 224.6 515.6)"/><ellipse cx="224.4" cy="516.7" rx="1.78" ry="0.68" transform="rotate(17 224.4 516.7)"/><ellipse cx="223.6" cy="518.0" rx="1.85" ry="0.68" transform="rotate(56 223.6 518.0)"/><circle cx="223.5" cy="520.2" r="0.45"/><circle cx="223.3" cy="511.6" r="0.45"/></g>
<g fill="#f6e71a"><ellipse cx="247.4" cy="499.6" rx="2.43" ry="1.98"/><circle cx="246.2" cy="500.5" r="1.35"/><circle cx="248.3" cy="498.8" r="1.44"/><ellipse cx="248.6" cy="497.7" rx="1.77" ry="0.68" transform="rotate(-56 248.6 497.7)"/><ellipse cx="249.4" cy="498.7" rx="1.75" ry="0.68" transform="rotate(-24 249.4 498.7)"/><ellipse cx="249.7" cy="500.3" rx="2.03" ry="0.68" transform="rotate(18 249.7 500.3)"/><ellipse cx="249.0" cy="501.4" rx="1.98" ry="0.68" transform="rotate(48 249.0 501.4)"/><circle cx="250.0" cy="495.7" r="0.45"/><circle cx="245.9" cy="503.3" r="0.45"/></g>
<g fill="#22cde6"><ellipse cx="275.1" cy="514.7" rx="2.43" ry="1.98"/><circle cx="273.9" cy="515.6" r="1.35"/><circle cx="276.0" cy="513.9" r="1.44"/><ellipse cx="276.6" cy="512.8" rx="1.95" ry="0.68" transform="rotate(-51 276.6 512.8)"/><ellipse cx="277.4" cy="514.4" rx="1.86" ry="0.68" transform="rotate(-7 277.4 514.4)"/><ellipse cx="277.2" cy="515.9" rx="2.03" ry="0.68" transform="rotate(31 277.2 515.9)"/><ellipse cx="276.1" cy="516.9" rx="2.03" ry="0.68" transform="rotate(65 276.1 516.9)"/><circle cx="272.8" cy="518.4" r="0.45"/><circle cx="278.5" cy="511.7" r="0.45"/></g>
<g fill="#f6e71a"><ellipse cx="302.3" cy="499.9" rx="2.43" ry="1.98"/><circle cx="301.1" cy="500.8" r="1.35"/><circle cx="303.2" cy="499.1" r="1.44"/><ellipse cx="304.0" cy="498.4" rx="1.80" ry="0.68" transform="rotate(-40 304.0 498.4)"/><ellipse cx="304.4" cy="499.3" rx="1.73" ry="0.68" transform="rotate(-15 304.4 499.3)"/><ellipse cx="304.0" cy="501.1" rx="1.69" ry="0.68" transform="rotate(36 304.0 501.1)"/><ellipse cx="302.9" cy="502.0" rx="1.74" ry="0.68" transform="rotate(73 302.9 502.0)"/><circle cx="302.6" cy="496.0" r="0.45"/><circle cx="305.2" cy="504.0" r="0.45"/></g>
<g fill="#22cde6"><ellipse cx="323.1" cy="516.8" rx="1.34" ry="1.09"/><circle cx="322.5" cy="517.3" r="0.74"/><circle cx="323.6" cy="516.3" r="0.79"/><ellipse cx="323.6" cy="515.2" rx="1.13" ry="0.37" transform="rotate(-71 323.6 515.2)"/><ellipse cx="324.5" cy="516.0" rx="1.12" ry="0.37" transform="rotate(-28 324.5 516.0)"/><ellipse cx="324.5" cy="517.1" rx="0.93" ry="0.37" transform="rotate(14 324.5 517.1)"/><ellipse cx="324.3" cy="517.8" rx="1.10" ry="0.37" transform="rotate(42 324.3 517.8)"/><circle cx="322.7" cy="514.7" r="0.25"/><circle cx="321.2" cy="516.6" r="0.25"/></g>
</g>
<text x="3.2" y="14.6" font-size="12.4" text-anchor="start" font-weight="normal" fill="#111" font-family="Liberation Sans, Arial, sans-serif" >A</text>
<text x="333.8" y="14.6" font-size="12.4" text-anchor="start" font-weight="normal" fill="#111" font-family="Liberation Sans, Arial, sans-serif" >B</text>
<text x="333" y="144.2" font-size="12.4" text-anchor="start" font-weight="normal" fill="#111" font-family="Liberation Sans, Arial, sans-serif" >C</text>
<text x="333.6" y="284.2" font-size="12.4" text-anchor="start" font-weight="normal" fill="#111" font-family="Liberation Sans, Arial, sans-serif" >D</text>
<text x="333.6" y="423.6" font-size="12.4" text-anchor="start" font-weight="normal" fill="#111" font-family="Liberation Sans, Arial, sans-serif" >E</text>
<text x="21.7" y="51.6" font-size="11.7" text-anchor="start" font-weight="normal" fill="#000" font-family="Liberation Sans, Arial, sans-serif" letter-spacing="-0.5">WT</text>
<text x="9.8" y="165.20000000000002" font-size="11.7" text-anchor="start" font-weight="normal" fill="#000" font-family="Liberation Sans, Arial, sans-serif" >CAG</text>
<text x="9.0" y="222.6" font-size="11.7" text-anchor="start" font-weight="normal" fill="#000" font-family="Liberation Sans, Arial, sans-serif" >NPC1</text>
<text x="9.8" y="284.59999999999997" font-size="11.7" text-anchor="start" font-weight="normal" fill="#000" font-family="Liberation Sans, Arial, sans-serif" >SYN</text>
<text x="7.999999999999999" y="339.09999999999997" font-size="11.7" text-anchor="start" font-weight="normal" fill="#000" font-family="Liberation Sans, Arial, sans-serif" >SYN-D</text>
<text x="7.999999999999999" y="397.59999999999997" font-size="11.7" text-anchor="start" font-weight="normal" fill="#000" font-family="Liberation Sans, Arial, sans-serif" >SYN-S</text>
<text x="7.8" y="455.79999999999995" font-size="11.7" text-anchor="start" font-weight="normal" fill="#000" font-family="Liberation Sans, Arial, sans-serif" >GAPDH</text>
<text x="7.999999999999999" y="512.6" font-size="11.7" text-anchor="start" font-weight="normal" fill="#000" font-family="Liberation Sans, Arial, sans-serif" >PGK</text>
<text x="8.2" y="106.2" font-size="11" font-style="italic" fill="#111" font-family="Liberation Sans, Arial, sans-serif">Npc1<tspan font-size="7.5" dy="-2.6">-/-</tspan></text>
<line x1="360.4" y1="51.7" x2="527" y2="51.7" stroke="#888" stroke-width="0.6" stroke-dasharray="1.3 0.4"/>
<rect x="366.45" y="51.5" width="11.70" height="65.9" fill="#ffffff" stroke="#999999" stroke-width="1.0"/>
<rect x="384.20" y="82.1" width="11.90" height="35.3" fill="#ff0000" stroke="#8a0000" stroke-width="0.7"/>
<rect x="402.10" y="54.8" width="11.90" height="62.6" fill="#0508ff" stroke="#00007a" stroke-width="0.7"/>
<rect x="420.10" y="47.4" width="11.80" height="70.0" fill="#12c6ff" stroke="#0a86b8" stroke-width="0.7"/>
<rect x="437.60" y="62.0" width="11.80" height="55.4" fill="#0a82ff" stroke="#0a4fa8" stroke-width="0.7"/>
<rect x="455.40" y="52.3" width="11.80" height="65.1" fill="#ff8400" stroke="#a85a00" stroke-width="0.7"/>
<rect x="473.20" y="49.3" width="11.80" height="68.1" fill="#0cff0c" stroke="#0a9a0a" stroke-width="0.7"/>
<rect x="491.20" y="65.3" width="11.80" height="52.1" fill="#8a8a8a" stroke="#4a4a4a" stroke-width="0.7"/>
<rect x="509.00" y="59.9" width="11.80" height="57.5" fill="#9e0000" stroke="#4a0000" stroke-width="0.7"/>
<path d="M372.3 48.5V54.5M369.3 48.5h6M369.3 54.5h6" stroke="#111" stroke-width="0.85" fill="none"/>
<path d="M390.1 78.5V84.5M387.1 78.5h6M387.1 84.5h6" stroke="#111" stroke-width="0.85" fill="none"/>
<path d="M408.1 51.2V57.6M405.1 51.2h6M405.1 57.6h6" stroke="#111" stroke-width="0.85" fill="none"/>
<path d="M426.0 43.4V50.4M423.0 43.4h6M423.0 50.4h6" stroke="#111" stroke-width="0.85" fill="none"/>
<path d="M443.5 58.0V65.0M440.5 58.0h6M440.5 65.0h6" stroke="#111" stroke-width="0.85" fill="none"/>
<path d="M461.3 49.2V54.6M458.3 49.2h6M458.3 54.6h6" stroke="#111" stroke-width="0.85" fill="none"/>
<path d="M479.1 47.4V50.6M476.1 47.4h6M476.1 50.6h6" stroke="#111" stroke-width="0.85" fill="none"/>
<path d="M497.1 62.4V67.4M494.1 62.4h6M494.1 67.4h6" stroke="#111" stroke-width="0.85" fill="none"/>
<path d="M514.9 56.4V62.6M511.9 56.4h6M511.9 62.6h6" stroke="#111" stroke-width="0.85" fill="none"/>
<text x="408.1" y="46.9" font-size="9" text-anchor="middle" font-weight="bold" fill="#111" font-family="Liberation Sans, Arial, sans-serif" >****</text>
<text x="426.0" y="38.5" font-size="9" text-anchor="middle" font-weight="bold" fill="#111" font-family="Liberation Sans, Arial, sans-serif" >****</text>
<text x="443.5" y="52.3" font-size="9" text-anchor="middle" font-weight="bold" fill="#111" font-family="Liberation Sans, Arial, sans-serif" >****</text>
<text x="461.3" y="46.9" font-size="9" text-anchor="middle" font-weight="bold" fill="#111" font-family="Liberation Sans, Arial, sans-serif" >****</text>
<text x="479.1" y="38.5" font-size="9" text-anchor="middle" font-weight="bold" fill="#111" font-family="Liberation Sans, Arial, sans-serif" >****</text>
<text x="497.1" y="60.9" font-size="9" text-anchor="middle" font-weight="bold" fill="#111" font-family="Liberation Sans, Arial, sans-serif" >****</text>
<text x="514.9" y="52.3" font-size="9" text-anchor="middle" font-weight="bold" fill="#111" font-family="Liberation Sans, Arial, sans-serif" >****</text>
<line x1="360.4" y1="14.6" x2="360.4" y2="117.9" stroke="#000" stroke-width="0.7"/>
<line x1="359.9" y1="117.4" x2="526.4" y2="117.4" stroke="#111" stroke-width="1"/>
<line x1="359.9" y1="14.7" x2="359.9" y2="117.4" stroke="#000" stroke-width="1.2" stroke-dasharray="0.640 0.640"/>
<line x1="358.2" y1="15" x2="360.4" y2="15" stroke="#111" stroke-width="0.9"/>
<text x="357.4" y="16.8" font-size="5" text-anchor="end" font-weight="normal" fill="#333" font-family="Liberation Sans, Arial, sans-serif" >8</text>
<line x1="358.2" y1="40.6" x2="360.4" y2="40.6" stroke="#111" stroke-width="0.9"/>
<text x="357.4" y="42.4" font-size="5" text-anchor="end" font-weight="normal" fill="#333" font-family="Liberation Sans, Arial, sans-serif" >6</text>
<line x1="358.2" y1="66.1" x2="360.4" y2="66.1" stroke="#111" stroke-width="0.9"/>
<text x="357.4" y="67.9" font-size="5" text-anchor="end" font-weight="normal" fill="#333" font-family="Liberation Sans, Arial, sans-serif" >4</text>
<line x1="358.2" y1="91.7" x2="360.4" y2="91.7" stroke="#111" stroke-width="0.9"/>
<text x="357.4" y="93.5" font-size="5" text-anchor="end" font-weight="normal" fill="#333" font-family="Liberation Sans, Arial, sans-serif" >2</text>
<line x1="358.2" y1="117.4" x2="360.4" y2="117.4" stroke="#111" stroke-width="0.9"/>
<text x="357.4" y="119.2" font-size="5" text-anchor="end" font-weight="normal" fill="#333" font-family="Liberation Sans, Arial, sans-serif" >0</text>
<line x1="372.3" y1="117.4" x2="372.3" y2="119.4" stroke="#111" stroke-width="0.8"/>
<text x="372.3" y="125.7" font-size="4.9" text-anchor="middle" font-weight="bold" fill="#333" font-family="Liberation Sans, Arial, sans-serif" >WT</text>
<line x1="390.1" y1="117.4" x2="390.1" y2="119.4" stroke="#111" stroke-width="0.8"/>
<text x="390.4" y="126.2" font-size="5.1" text-anchor="middle" font-weight="bold" fill="#333" font-family="Liberation Sans, Arial, sans-serif">Npc1<tspan font-size="3.7" dy="-1.4">-/-</tspan></text>
<line x1="408.1" y1="117.4" x2="408.1" y2="119.4" stroke="#111" stroke-width="0.8"/>
<text x="408.1" y="125.7" font-size="4.9" text-anchor="middle" font-weight="bold" fill="#333" font-family="Liberation Sans, Arial, sans-serif" >SYN</text>
<line x1="426.0" y1="117.4" x2="426.0" y2="119.4" stroke="#111" stroke-width="0.8"/>
<text x="426.0" y="125.7" font-size="4.9" text-anchor="middle" font-weight="bold" fill="#333" font-family="Liberation Sans, Arial, sans-serif" >SYN-D</text>
<line x1="443.5" y1="117.4" x2="443.5" y2="119.4" stroke="#111" stroke-width="0.8"/>
<text x="443.5" y="125.7" font-size="4.9" text-anchor="middle" font-weight="bold" fill="#333" font-family="Liberation Sans, Arial, sans-serif" >SYN-S</text>
<line x1="461.3" y1="117.4" x2="461.3" y2="119.4" stroke="#111" stroke-width="0.8"/>
<text x="461.3" y="125.7" font-size="4.9" text-anchor="middle" font-weight="bold" fill="#333" font-family="Liberation Sans, Arial, sans-serif" >CAG</text>
<line x1="479.1" y1="117.4" x2="479.1" y2="119.4" stroke="#111" stroke-width="0.8"/>
<text x="479.1" y="125.7" font-size="4.9" text-anchor="middle" font-weight="bold" fill="#333" font-family="Liberation Sans, Arial, sans-serif" >NPC1</text>
<line x1="497.1" y1="117.4" x2="497.1" y2="119.4" stroke="#111" stroke-width="0.8"/>
<text x="497.1" y="125.7" font-size="4.9" text-anchor="middle" font-weight="bold" fill="#333" font-family="Liberation Sans, Arial, sans-serif" >GAPDH</text>
<line x1="514.9" y1="117.4" x2="514.9" y2="119.4" stroke="#111" stroke-width="0.8"/>
<text x="514.9" y="125.7" font-size="4.9" text-anchor="middle" font-weight="bold" fill="#333" font-family="Liberation Sans, Arial, sans-serif" >PGK</text>
<text x="418" y="11.3" font-size="5.7" text-anchor="start" font-weight="bold" fill="#000" font-family="Liberation Sans, Arial, sans-serif" >STRIDE LENGTH</text>
<text transform="translate(351.7 66.5) rotate(-90)" font-size="4.7" text-anchor="middle" font-weight="bold" fill="#333" font-family="Liberation Sans, Arial, sans-serif">Stride Length (cm)</text>
<line x1="364" y1="170.6" x2="523" y2="170.6" stroke="#888" stroke-width="0.6" stroke-dasharray="1.3 0.4"/>
<rect x="364.25" y="170.6" width="11.50" height="87.1" fill="#ffffff" stroke="#999999" stroke-width="1.0"/>
<rect x="381.60" y="198.0" width="12.00" height="59.7" fill="#ff0000" stroke="#8a0000" stroke-width="0.7"/>
<rect x="399.40" y="176.4" width="12.20" height="81.3" fill="#0508ff" stroke="#00007a" stroke-width="0.7"/>
<rect x="417.00" y="181.4" width="12.20" height="76.3" fill="#12c6ff" stroke="#0a86b8" stroke-width="0.7"/>
<rect x="435.00" y="176.4" width="12.00" height="81.3" fill="#0a82ff" stroke="#0a4fa8" stroke-width="0.7"/>
<rect x="453.00" y="178.6" width="12.00" height="79.1" fill="#ff8400" stroke="#a85a00" stroke-width="0.7"/>
<rect x="470.80" y="176.0" width="12.00" height="81.7" fill="#0cff0c" stroke="#0a9a0a" stroke-width="0.7"/>
<rect x="488.60" y="198.0" width="12.00" height="59.7" fill="#8a8a8a" stroke="#4a4a4a" stroke-width="0.7"/>
<rect x="506.40" y="201.6" width="12.00" height="56.1" fill="#9e0000" stroke="#4a0000" stroke-width="0.7"/>
<path d="M370.0 165.4V175.6M367.0 165.4h6M367.0 175.6h6" stroke="#111" stroke-width="0.85" fill="none"/>
<path d="M387.6 191.4V203.6M384.6 191.4h6M384.6 203.6h6" stroke="#111" stroke-width="0.85" fill="none"/>
<path d="M405.5 169.6V183.0M402.5 169.6h6M402.5 183.0h6" stroke="#111" stroke-width="0.85" fill="none"/>
<path d="M423.1 175.4V187.4M420.1 175.4h6M420.1 187.4h6" stroke="#111" stroke-width="0.85" fill="none"/>
<path d="M441.0 171.0V180.6M438.0 171.0h6M438.0 180.6h6" stroke="#111" stroke-width="0.85" fill="none"/>
<path d="M459.0 171.6V184.4M456.0 171.6h6M456.0 184.4h6" stroke="#111" stroke-width="0.85" fill="none"/>
<path d="M476.8 172.4V179.0M473.8 172.4h6M473.8 179.0h6" stroke="#111" stroke-width="0.85" fill="none"/>
<path d="M494.6 193.6V202.0M491.6 193.6h6M491.6 202.0h6" stroke="#111" stroke-width="0.85" fill="none"/>
<path d="M512.4 197.4V206.0M509.4 197.4h6M509.4 206.0h6" stroke="#111" stroke-width="0.85" fill="none"/>
<text x="405.5" y="165.5" font-size="9" text-anchor="middle" font-weight="bold" fill="#111" font-family="Liberation Sans, Arial, sans-serif" >****</text>
<text x="423.1" y="176.5" font-size="9" text-anchor="middle" font-weight="bold" fill="#111" font-family="Liberation Sans, Arial, sans-serif" >***</text>
<text x="441.0" y="170.9" font-size="9" text-anchor="middle" font-weight="bold" fill="#111" font-family="Liberation Sans, Arial, sans-serif" >****</text>
<text x="459.0" y="165.5" font-size="9" text-anchor="middle" font-weight="bold" fill="#111" font-family="Liberation Sans, Arial, sans-serif" >****</text>
<text x="476.8" y="170.9" font-size="9" text-anchor="middle" font-weight="bold" fill="#111" font-family="Liberation Sans, Arial, sans-serif" >****</text>
<line x1="358.0" y1="155.0" x2="358.0" y2="258.2" stroke="#000" stroke-width="0.7"/>
<line x1="357.5" y1="257.7" x2="524.0" y2="257.7" stroke="#111" stroke-width="1"/>
<line x1="357.5" y1="155.1" x2="357.5" y2="257.7" stroke="#000" stroke-width="1.2" stroke-dasharray="0.640 0.640"/>
<line x1="355.8" y1="155.4" x2="358.0" y2="155.4" stroke="#111" stroke-width="0.9"/>
<text x="355.0" y="157.2" font-size="5" text-anchor="end" font-weight="normal" fill="#333" font-family="Liberation Sans, Arial, sans-serif" >80</text>
<line x1="355.8" y1="181" x2="358.0" y2="181" stroke="#111" stroke-width="0.9"/>
<text x="355.0" y="182.8" font-size="5" text-anchor="end" font-weight="normal" fill="#333" font-family="Liberation Sans, Arial, sans-serif" >60</text>
<line x1="355.8" y1="206.6" x2="358.0" y2="206.6" stroke="#111" stroke-width="0.9"/>
<text x="355.0" y="208.4" font-size="5" text-anchor="end" font-weight="normal" fill="#333" font-family="Liberation Sans, Arial, sans-serif" >40</text>
<line x1="355.8" y1="232.2" x2="358.0" y2="232.2" stroke="#111" stroke-width="0.9"/>
<text x="355.0" y="234.0" font-size="5" text-anchor="end" font-weight="normal" fill="#333" font-family="Liberation Sans, Arial, sans-serif" >20</text>
<line x1="355.8" y1="257.7" x2="358.0" y2="257.7" stroke="#111" stroke-width="0.9"/>
<text x="355.0" y="259.5" font-size="5" text-anchor="end" font-weight="normal" fill="#333" font-family="Liberation Sans, Arial, sans-serif" >0</text>
<line x1="370.0" y1="257.7" x2="370.0" y2="259.7" stroke="#111" stroke-width="0.8"/>
<text x="370.0" y="265.8" font-size="4.9" text-anchor="middle" font-weight="bold" fill="#333" font-family="Liberation Sans, Arial, sans-serif" >WT</text>
<line x1="387.6" y1="257.7" x2="387.6" y2="259.7" stroke="#111" stroke-width="0.8"/>
<text x="387.9" y="266.3" font-size="5.1" text-anchor="middle" font-weight="bold" fill="#333" font-family="Liberation Sans, Arial, sans-serif">Npc1<tspan font-size="3.7" dy="-1.4">-/-</tspan></text>
<line x1="405.5" y1="257.7" x2="405.5" y2="259.7" stroke="#111" stroke-width="0.8"/>
<text x="405.5" y="265.8" font-size="4.9" text-anchor="middle" font-weight="bold" fill="#333" font-family="Liberation Sans, Arial, sans-serif" >SYN</text>
<line x1="423.1" y1="257.7" x2="423.1" y2="259.7" stroke="#111" stroke-width="0.8"/>
<text x="423.1" y="265.8" font-size="4.9" text-anchor="middle" font-weight="bold" fill="#333" font-family="Liberation Sans, Arial, sans-serif" >SYN-D</text>
<line x1="441.0" y1="257.7" x2="441.0" y2="259.7" stroke="#111" stroke-width="0.8"/>
<text x="441.0" y="265.8" font-size="4.9" text-anchor="middle" font-weight="bold" fill="#333" font-family="Liberation Sans, Arial, sans-serif" >SYN-S</text>
<line x1="459.0" y1="257.7" x2="459.0" y2="259.7" stroke="#111" stroke-width="0.8"/>
<text x="459.0" y="265.8" font-size="4.9" text-anchor="middle" font-weight="bold" fill="#333" font-family="Liberation Sans, Arial, sans-serif" >CAG</text>
<line x1="476.8" y1="257.7" x2="476.8" y2="259.7" stroke="#111" stroke-width="0.8"/>
<text x="476.8" y="265.8" font-size="4.9" text-anchor="middle" font-weight="bold" fill="#333" font-family="Liberation Sans, Arial, sans-serif" >NPC1</text>
<line x1="494.6" y1="257.7" x2="494.6" y2="259.7" stroke="#111" stroke-width="0.8"/>
<text x="494.6" y="265.8" font-size="4.9" text-anchor="middle" font-weight="bold" fill="#333" font-family="Liberation Sans, Arial, sans-serif" >GAPDH</text>
<line x1="512.4" y1="257.7" x2="512.4" y2="259.7" stroke="#111" stroke-width="0.8"/>
<text x="512.4" y="265.8" font-size="4.9" text-anchor="middle" font-weight="bold" fill="#333" font-family="Liberation Sans, Arial, sans-serif" >PGK</text>
<text x="418" y="144.6" font-size="5.7" text-anchor="start" font-weight="bold" fill="#000" font-family="Liberation Sans, Arial, sans-serif" >SWING SPEED</text>
<text transform="translate(346.6 207) rotate(-90)" font-size="4.7" text-anchor="middle" font-weight="bold" fill="#333" font-family="Liberation Sans, Arial, sans-serif">Swing Speed (cm/s)</text>
<line x1="356.6" y1="358.6" x2="522" y2="358.6" stroke="#777" stroke-width="0.6" stroke-dasharray="0.9 0.5"/>
<rect x="362.85" y="358.6" width="11.50" height="34.8" fill="#ffffff" stroke="#999999" stroke-width="1.0"/>
<rect x="380.60" y="323.0" width="11.80" height="70.4" fill="#ff0000" stroke="#8a0000" stroke-width="0.7"/>
<rect x="398.20" y="355.0" width="12.00" height="38.4" fill="#0508ff" stroke="#00007a" stroke-width="0.7"/>
<rect x="416.00" y="354.0" width="12.00" height="39.4" fill="#12c6ff" stroke="#0a86b8" stroke-width="0.7"/>
<rect x="434.00" y="351.4" width="12.00" height="42.0" fill="#0a82ff" stroke="#0a4fa8" stroke-width="0.7"/>
<rect x="451.60" y="354.6" width="12.00" height="38.8" fill="#ff8400" stroke="#a85a00" stroke-width="0.7"/>
<rect x="469.60" y="349.4" width="12.00" height="44.0" fill="#0cff0c" stroke="#0a9a0a" stroke-width="0.7"/>
<rect x="487.40" y="321.0" width="12.00" height="72.4" fill="#8a8a8a" stroke="#4a4a4a" stroke-width="0.7"/>
<rect x="505.20" y="344.4" width="12.00" height="49.0" fill="#9e0000" stroke="#4a0000" stroke-width="0.7"/>
<path d="M368.6 355.4V361.6M365.6 355.4h6M365.6 361.6h6" stroke="#111" stroke-width="0.85" fill="none"/>
<path d="M386.5 307.0V338.6M383.5 307.0h6M383.5 338.6h6" stroke="#111" stroke-width="0.85" fill="none"/>
<path d="M404.2 351.6V358.4M401.2 351.6h6M401.2 358.4h6" stroke="#111" stroke-width="0.85" fill="none"/>
<path d="M422.0 349.4V358.4M419.0 349.4h6M419.0 358.4h6" stroke="#111" stroke-width="0.85" fill="none"/>
<path d="M440.0 347.6V355.0M437.0 347.6h6M437.0 355.0h6" stroke="#111" stroke-width="0.85" fill="none"/>
<path d="M457.6 346.4V363.0M454.6 346.4h6M454.6 363.0h6" stroke="#111" stroke-width="0.85" fill="none"/>
<path d="M475.6 347.0V351.4M472.6 347.0h6M472.6 351.4h6" stroke="#111" stroke-width="0.85" fill="none"/>
<path d="M493.4 317.6V324.0M490.4 317.6h6M490.4 324.0h6" stroke="#111" stroke-width="0.85" fill="none"/>
<path d="M511.2 339.6V349.0M508.2 339.6h6M508.2 349.0h6" stroke="#111" stroke-width="0.85" fill="none"/>
<text x="404.2" y="344.5" font-size="9" text-anchor="middle" font-weight="bold" fill="#111" font-family="Liberation Sans, Arial, sans-serif" >****</text>
<text x="422.0" y="337.3" font-size="9" text-anchor="middle" font-weight="bold" fill="#111" font-family="Liberation Sans, Arial, sans-serif" >****</text>
<text x="440.0" y="344.5" font-size="9" text-anchor="middle" font-weight="bold" fill="#111" font-family="Liberation Sans, Arial, sans-serif" >****</text>
<text x="457.6" y="337.3" font-size="9" text-anchor="middle" font-weight="bold" fill="#111" font-family="Liberation Sans, Arial, sans-serif" >****</text>
<text x="475.6" y="344.5" font-size="9" text-anchor="middle" font-weight="bold" fill="#111" font-family="Liberation Sans, Arial, sans-serif" >****</text>
<text x="511.2" y="338.5" font-size="9" text-anchor="middle" font-weight="bold" fill="#111" font-family="Liberation Sans, Arial, sans-serif" >**</text>
<line x1="356.6" y1="290.6" x2="356.6" y2="393.9" stroke="#000" stroke-width="0.7"/>
<line x1="356.1" y1="393.4" x2="522.8" y2="393.4" stroke="#111" stroke-width="1"/>
<line x1="356.1" y1="290.7" x2="356.1" y2="393.4" stroke="#000" stroke-width="1.2" stroke-dasharray="0.640 0.640"/>
<line x1="354.40000000000003" y1="291" x2="356.6" y2="291" stroke="#111" stroke-width="0.9"/>
<text x="353.6" y="292.8" font-size="5" text-anchor="end" font-weight="normal" fill="#333" font-family="Liberation Sans, Arial, sans-serif" >8</text>
<line x1="354.40000000000003" y1="316.6" x2="356.6" y2="316.6" stroke="#111" stroke-width="0.9"/>
<text x="353.6" y="318.4" font-size="5" text-anchor="end" font-weight="normal" fill="#333" font-family="Liberation Sans, Arial, sans-serif" >6</text>
<line x1="354.40000000000003" y1="342.2" x2="356.6" y2="342.2" stroke="#111" stroke-width="0.9"/>
<text x="353.6" y="344.0" font-size="5" text-anchor="end" font-weight="normal" fill="#333" font-family="Liberation Sans, Arial, sans-serif" >4</text>
<line x1="354.40000000000003" y1="367.8" x2="356.6" y2="367.8" stroke="#111" stroke-width="0.9"/>
<text x="353.6" y="369.6" font-size="5" text-anchor="end" font-weight="normal" fill="#333" font-family="Liberation Sans, Arial, sans-serif" >2</text>
<line x1="354.40000000000003" y1="393.4" x2="356.6" y2="393.4" stroke="#111" stroke-width="0.9"/>
<text x="353.6" y="395.2" font-size="5" text-anchor="end" font-weight="normal" fill="#333" font-family="Liberation Sans, Arial, sans-serif" >0</text>
<line x1="368.6" y1="393.4" x2="368.6" y2="395.4" stroke="#111" stroke-width="0.8"/>
<text x="368.6" y="401.7" font-size="4.9" text-anchor="middle" font-weight="bold" fill="#333" font-family="Liberation Sans, Arial, sans-serif" >WT</text>
<line x1="386.5" y1="393.4" x2="386.5" y2="395.4" stroke="#111" stroke-width="0.8"/>
<text x="386.8" y="402.2" font-size="5.1" text-anchor="middle" font-weight="bold" fill="#333" font-family="Liberation Sans, Arial, sans-serif">Npc1<tspan font-size="3.7" dy="-1.4">-/-</tspan></text>
<line x1="404.2" y1="393.4" x2="404.2" y2="395.4" stroke="#111" stroke-width="0.8"/>
<text x="404.2" y="401.7" font-size="4.9" text-anchor="middle" font-weight="bold" fill="#333" font-family="Liberation Sans, Arial, sans-serif" >SYN</text>
<line x1="422.0" y1="393.4" x2="422.0" y2="395.4" stroke="#111" stroke-width="0.8"/>
<text x="422.0" y="401.7" font-size="4.9" text-anchor="middle" font-weight="bold" fill="#333" font-family="Liberation Sans, Arial, sans-serif" >SYN-D</text>
<line x1="440.0" y1="393.4" x2="440.0" y2="395.4" stroke="#111" stroke-width="0.8"/>
<text x="440.0" y="401.7" font-size="4.9" text-anchor="middle" font-weight="bold" fill="#333" font-family="Liberation Sans, Arial, sans-serif" >SYN-S</text>
<line x1="457.6" y1="393.4" x2="457.6" y2="395.4" stroke="#111" stroke-width="0.8"/>
<text x="457.6" y="401.7" font-size="4.9" text-anchor="middle" font-weight="bold" fill="#333" font-family="Liberation Sans, Arial, sans-serif" >CAG</text>
<line x1="475.6" y1="393.4" x2="475.6" y2="395.4" stroke="#111" stroke-width="0.8"/>
<text x="475.6" y="401.7" font-size="4.9" text-anchor="middle" font-weight="bold" fill="#333" font-family="Liberation Sans, Arial, sans-serif" >NPC1</text>
<line x1="493.4" y1="393.4" x2="493.4" y2="395.4" stroke="#111" stroke-width="0.8"/>
<text x="493.4" y="401.7" font-size="4.9" text-anchor="middle" font-weight="bold" fill="#333" font-family="Liberation Sans, Arial, sans-serif" >GAPDH</text>
<line x1="511.2" y1="393.4" x2="511.2" y2="395.4" stroke="#111" stroke-width="0.8"/>
<text x="511.2" y="401.7" font-size="4.9" text-anchor="middle" font-weight="bold" fill="#333" font-family="Liberation Sans, Arial, sans-serif" >PGK</text>
<text x="424.4" y="285.4" font-size="5.7" text-anchor="start" font-weight="bold" fill="#000" font-family="Liberation Sans, Arial, sans-serif" >DURATION</text>
<text transform="translate(348.6 343) rotate(-90)" font-size="4.7" text-anchor="middle" font-weight="bold" fill="#333" font-family="Liberation Sans, Arial, sans-serif">Duration (s)</text>
<line x1="359.6" y1="454.4" x2="524" y2="454.4" stroke="#444" stroke-width="0.6" stroke-dasharray="0.9 0.5"/>
<rect x="365.85" y="454.4" width="11.50" height="83.0" fill="#ffffff" stroke="#999999" stroke-width="1.0"/>
<rect x="383.40" y="481.6" width="12.00" height="55.8" fill="#ff0000" stroke="#8a0000" stroke-width="0.7"/>
<rect x="401.00" y="448.0" width="12.00" height="89.4" fill="#0508ff" stroke="#00007a" stroke-width="0.7"/>
<rect x="418.80" y="447.4" width="12.00" height="90.0" fill="#12c6ff" stroke="#0a86b8" stroke-width="0.7"/>
<rect x="436.60" y="458.6" width="12.00" height="78.8" fill="#0a82ff" stroke="#0a4fa8" stroke-width="0.7"/>
<rect x="454.40" y="452.4" width="12.00" height="85.0" fill="#ff8400" stroke="#a85a00" stroke-width="0.7"/>
<rect x="472.20" y="456.6" width="12.00" height="80.8" fill="#0cff0c" stroke="#0a9a0a" stroke-width="0.7"/>
<rect x="490.00" y="464.0" width="12.00" height="73.4" fill="#8a8a8a" stroke="#4a4a4a" stroke-width="0.7"/>
<rect x="508.00" y="451.0" width="12.00" height="86.4" fill="#9e0000" stroke="#4a0000" stroke-width="0.7"/>
<path d="M371.6 452.2V455.9M368.6 452.2h6M368.6 455.9h6" stroke="#111" stroke-width="0.85" fill="none"/>
<path d="M389.4 476.4V486.6M386.4 476.4h6M386.4 486.6h6" stroke="#111" stroke-width="0.85" fill="none"/>
<path d="M407.0 441.4V453.4M404.0 441.4h6M404.0 453.4h6" stroke="#111" stroke-width="0.85" fill="none"/>
<path d="M424.8 442.6V451.0M421.8 442.6h6M421.8 451.0h6" stroke="#111" stroke-width="0.85" fill="none"/>
<path d="M442.6 453.4V463.4M439.6 453.4h6M439.6 463.4h6" stroke="#111" stroke-width="0.85" fill="none"/>
<path d="M460.4 447.4V457.4M457.4 447.4h6M457.4 457.4h6" stroke="#111" stroke-width="0.85" fill="none"/>
<path d="M478.2 453.6V459.4M475.2 453.6h6M475.2 459.4h6" stroke="#111" stroke-width="0.85" fill="none"/>
<path d="M496.0 460.4V467.4M493.0 460.4h6M493.0 467.4h6" stroke="#111" stroke-width="0.85" fill="none"/>
<path d="M514.0 446.6V454.4M511.0 446.6h6M511.0 454.4h6" stroke="#111" stroke-width="0.85" fill="none"/>
<text x="407.0" y="440.5" font-size="9" text-anchor="middle" font-weight="bold" fill="#111" font-family="Liberation Sans, Arial, sans-serif" >****</text>
<text x="424.8" y="433.3" font-size="9" text-anchor="middle" font-weight="bold" fill="#111" font-family="Liberation Sans, Arial, sans-serif" >****</text>
<text x="442.6" y="442.3" font-size="9" text-anchor="middle" font-weight="bold" fill="#111" font-family="Liberation Sans, Arial, sans-serif" >****</text>
<text x="460.4" y="433.3" font-size="9" text-anchor="middle" font-weight="bold" fill="#111" font-family="Liberation Sans, Arial, sans-serif" >****</text>
<text x="478.2" y="442.3" font-size="9" text-anchor="middle" font-weight="bold" fill="#111" font-family="Liberation Sans, Arial, sans-serif" >****</text>
<text x="496.0" y="454.9" font-size="9" text-anchor="middle" font-weight="bold" fill="#111" font-family="Liberation Sans, Arial, sans-serif" >****</text>
<text x="514.0" y="442.3" font-size="9" text-anchor="middle" font-weight="bold" fill="#111" font-family="Liberation Sans, Arial, sans-serif" >****</text>
<line x1="359.6" y1="433.8" x2="359.6" y2="537.9" stroke="#000" stroke-width="0.7"/>
<line x1="359.1" y1="537.4" x2="525.6" y2="537.4" stroke="#111" stroke-width="1"/>
<line x1="359.1" y1="433.9" x2="359.1" y2="537.4" stroke="#000" stroke-width="1.2" stroke-dasharray="0.700 4.000"/>
<line x1="357.40000000000003" y1="443.4" x2="359.6" y2="443.4" stroke="#111" stroke-width="0.9"/>
<text x="356.6" y="445.2" font-size="5" text-anchor="end" font-weight="normal" fill="#333" font-family="Liberation Sans, Arial, sans-serif" >100</text>
<line x1="357.40000000000003" y1="490.4" x2="359.6" y2="490.4" stroke="#111" stroke-width="0.9"/>
<text x="356.6" y="492.2" font-size="5" text-anchor="end" font-weight="normal" fill="#333" font-family="Liberation Sans, Arial, sans-serif" >50</text>
<line x1="357.40000000000003" y1="537.4" x2="359.6" y2="537.4" stroke="#111" stroke-width="0.9"/>
<text x="356.6" y="539.2" font-size="5" text-anchor="end" font-weight="normal" fill="#333" font-family="Liberation Sans, Arial, sans-serif" >0</text>
<line x1="371.6" y1="537.4" x2="371.6" y2="539.4" stroke="#111" stroke-width="0.8"/>
<text x="371.6" y="546.1" font-size="4.9" text-anchor="middle" font-weight="bold" fill="#333" font-family="Liberation Sans, Arial, sans-serif" >WT</text>
<line x1="389.4" y1="537.4" x2="389.4" y2="539.4" stroke="#111" stroke-width="0.8"/>
<text x="389.7" y="546.6" font-size="5.1" text-anchor="middle" font-weight="bold" fill="#333" font-family="Liberation Sans, Arial, sans-serif">Npc1<tspan font-size="3.7" dy="-1.4">-/-</tspan></text>
<line x1="407.0" y1="537.4" x2="407.0" y2="539.4" stroke="#111" stroke-width="0.8"/>
<text x="407.0" y="546.1" font-size="4.9" text-anchor="middle" font-weight="bold" fill="#333" font-family="Liberation Sans, Arial, sans-serif" >SYN</text>
<line x1="424.8" y1="537.4" x2="424.8" y2="539.4" stroke="#111" stroke-width="0.8"/>
<text x="424.8" y="546.1" font-size="4.9" text-anchor="middle" font-weight="bold" fill="#333" font-family="Liberation Sans, Arial, sans-serif" >SYN-D</text>
<line x1="442.6" y1="537.4" x2="442.6" y2="539.4" stroke="#111" stroke-width="0.8"/>
<text x="442.6" y="546.1" font-size="4.9" text-anchor="middle" font-weight="bold" fill="#333" font-family="Liberation Sans, Arial, sans-serif" >SYN-S</text>
<line x1="460.4" y1="537.4" x2="460.4" y2="539.4" stroke="#111" stroke-width="0.8"/>
<text x="460.4" y="546.1" font-size="4.9" text-anchor="middle" font-weight="bold" fill="#333" font-family="Liberation Sans, Arial, sans-serif" >CAG</text>
<line x1="478.2" y1="537.4" x2="478.2" y2="539.4" stroke="#111" stroke-width="0.8"/>
<text x="478.2" y="546.1" font-size="4.9" text-anchor="middle" font-weight="bold" fill="#333" font-family="Liberation Sans, Arial, sans-serif" >NPC1</text>
<line x1="496.0" y1="537.4" x2="496.0" y2="539.4" stroke="#111" stroke-width="0.8"/>
<text x="496.0" y="546.1" font-size="4.9" text-anchor="middle" font-weight="bold" fill="#333" font-family="Liberation Sans, Arial, sans-serif" >GAPDH</text>
<line x1="514.0" y1="537.4" x2="514.0" y2="539.4" stroke="#111" stroke-width="0.8"/>
<text x="514.0" y="546.1" font-size="4.9" text-anchor="middle" font-weight="bold" fill="#333" font-family="Liberation Sans, Arial, sans-serif" >PGK</text>
<text x="415" y="421" font-size="5.7" text-anchor="start" font-weight="bold" fill="#000" font-family="Liberation Sans, Arial, sans-serif" >REGULARITY INDEX</text>
<text transform="translate(346.2 487) rotate(-90)" font-size="4.7" text-anchor="middle" font-weight="bold" fill="#333" font-family="Liberation Sans, Arial, sans-serif">Regularity Index (%)</text>
</svg>
</body></html>
